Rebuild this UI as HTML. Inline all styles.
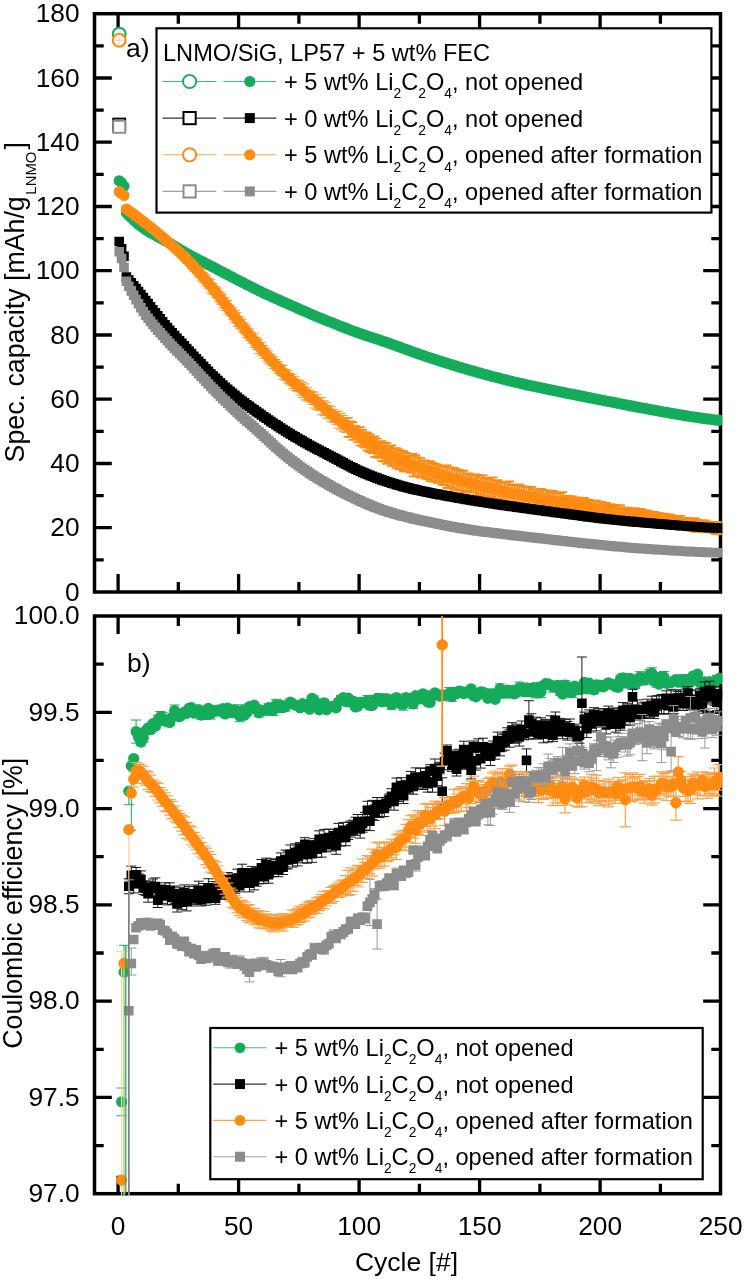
<!DOCTYPE html>
<html lang="en"><head><meta charset="utf-8"><title>Cycling data: specific capacity and coulombic efficiency</title>
<style>html,body{margin:0;padding:0;background:#fff}svg{display:block}text{font-family:"Liberation Sans", Arial, Helvetica, sans-serif;fill:#000}</style></head><body>
<svg width="744" height="1280" viewBox="0 0 744 1280">
<rect width="744" height="1280" fill="#fff"/>
<defs><clipPath id="ca"><rect x="94.5" y="13.7" width="627.8" height="580"/></clipPath><clipPath id="cb"><rect x="94.5" y="616" width="627.8" height="579.5"/></clipPath></defs>
<g id="panel-a">
<path d="M118.1 13.7v18M118.1 592v-18M178.3 13.7v10M178.3 592v-10M238.6 13.7v18M238.6 592v-18M298.9 13.7v10M298.9 592v-10M359.1 13.7v18M359.1 592v-18M419.4 13.7v10M419.4 592v-10M479.6 13.7v18M479.6 592v-18M539.9 13.7v10M539.9 592v-10M600.1 13.7v18M600.1 592v-18M660.4 13.7v10M660.4 592v-10M94.5 527.7h17.3M720.5 527.7h-17.3M94.5 463.5h17.3M720.5 463.5h-17.3M94.5 399.2h17.3M720.5 399.2h-17.3M94.5 335h17.3M720.5 335h-17.3M94.5 270.7h17.3M720.5 270.7h-17.3M94.5 206.5h17.3M720.5 206.5h-17.3M94.5 142.2h17.3M720.5 142.2h-17.3M94.5 78h17.3M720.5 78h-17.3M94.5 559.9h9.2M720.5 559.9h-9.2M94.5 495.6h9.2M720.5 495.6h-9.2M94.5 431.4h9.2M720.5 431.4h-9.2M94.5 367.1h9.2M720.5 367.1h-9.2M94.5 302.9h9.2M720.5 302.9h-9.2M94.5 238.6h9.2M720.5 238.6h-9.2M94.5 174.3h9.2M720.5 174.3h-9.2M94.5 110.1h9.2M720.5 110.1h-9.2M94.5 45.8h9.2M720.5 45.8h-9.2" stroke="#000" stroke-width="3.3" fill="none"/>
<rect x="94.5" y="13.7" width="626" height="578.3" fill="none" stroke="#000" stroke-width="3.5"/>
<path d="M119.2 180.8h0M121.6 182.7h0M124 186.2h0M126.4 212.9h0M128.8 215.5h0M131.3 217.9h0M133.7 220.3h0M136.1 222.4h0M138.5 224.5h0M140.9 226.4h0M143.3 228.1h0M145.7 229.7h0M148.1 231.2h0M150.5 232.7h0M152.9 234.1h0M155.4 235.4h0M157.8 236.7h0M160.2 238h0M162.6 239.2h0M165 240.5h0M167.4 241.9h0M169.8 243.3h0M172.2 244.7h0M174.6 246.2h0M177.1 247.6h0M179.5 249.1h0M181.9 250.5h0M184.3 251.9h0M186.7 253.3h0M189.1 254.7h0M191.5 256h0M193.9 257.3h0M196.3 258.5h0M198.7 259.8h0M201.2 261h0M203.6 262.2h0M206 263.5h0M208.4 264.7h0M210.8 265.9h0M213.2 267.2h0M215.6 268.4h0M218 269.7h0M220.4 271h0M222.8 272.2h0M225.2 273.5h0M227.7 274.7h0M230.1 276h0M232.5 277.2h0M234.9 278.5h0M237.3 279.7h0M239.7 281h0M242.1 282.2h0M244.5 283.4h0M246.9 284.7h0M249.4 285.9h0M251.8 287.2h0M254.2 288.4h0M256.6 289.6h0M259 290.8h0M261.4 291.9h0M263.8 293.1h0M266.2 294.2h0M268.6 295.3h0M271 296.4h0M273.4 297.5h0M275.9 298.6h0M278.3 299.6h0M280.7 300.7h0M283.1 301.8h0M285.5 302.9h0M287.9 303.9h0M290.3 305h0M292.7 306.1h0M295.1 307.1h0M297.6 308.2h0M300 309.3h0M302.4 310.3h0M304.8 311.4h0M307.2 312.4h0M309.6 313.5h0M312 314.5h0M314.4 315.5h0M316.8 316.5h0M319.2 317.5h0M321.7 318.5h0M324.1 319.5h0M326.5 320.5h0M328.9 321.5h0M331.3 322.4h0M333.7 323.4h0M336.1 324.4h0M338.5 325.3h0M340.9 326.3h0M343.3 327.2h0M345.8 328.2h0M348.2 329.1h0M350.6 330.1h0M353 331h0M355.4 331.9h0M357.8 332.7h0M360.2 333.6h0M362.6 334.4h0M365 335.2h0M367.4 336h0M369.9 336.8h0M372.3 337.6h0M374.7 338.4h0M377.1 339.1h0M379.5 339.9h0M381.9 340.8h0M384.3 341.6h0M386.7 342.4h0M389.1 343.3h0M391.5 344.1h0M394 345h0M396.4 345.9h0M398.8 346.7h0M401.2 347.6h0M403.6 348.5h0M406 349.4h0M408.4 350.2h0M410.8 351.1h0M413.2 352h0M415.6 352.8h0M418.1 353.7h0M420.5 354.5h0M422.9 355.4h0M425.3 356.2h0M427.7 357h0M430.1 357.8h0M432.5 358.6h0M434.9 359.4h0M437.3 360.1h0M439.7 360.9h0M442.2 361.7h0M444.6 362.5h0M447 363.2h0M449.4 364h0M451.8 364.7h0M454.2 365.5h0M456.6 366.2h0M459 367h0M461.4 367.7h0M463.8 368.4h0M466.3 369.1h0M468.7 369.8h0M471.1 370.5h0M473.5 371.2h0M475.9 371.9h0M478.3 372.6h0M480.7 373.2h0M483.1 373.9h0M485.5 374.5h0M487.9 375.2h0M490.4 375.8h0M492.8 376.5h0M495.2 377.1h0M497.6 377.7h0M500 378.4h0M502.4 379h0M504.8 379.6h0M507.2 380.2h0M509.6 380.8h0M512 381.4h0M514.5 382h0M516.9 382.5h0M519.3 383.1h0M521.7 383.7h0M524.1 384.2h0M526.5 384.8h0M528.9 385.3h0M531.3 385.9h0M533.7 386.4h0M536.1 386.9h0M538.5 387.4h0M541 387.9h0M543.4 388.4h0M545.8 388.9h0M548.2 389.4h0M550.6 389.9h0M553 390.4h0M555.4 390.9h0M557.8 391.4h0M560.2 391.8h0M562.6 392.3h0M565.1 392.8h0M567.5 393.3h0M569.9 393.8h0M572.3 394.2h0M574.7 394.7h0M577.1 395.2h0M579.5 395.7h0M581.9 396.2h0M584.3 396.7h0M586.8 397.2h0M589.2 397.6h0M591.6 398.1h0M594 398.6h0M596.4 399.1h0M598.8 399.6h0M601.2 400h0M603.6 400.5h0M606 401h0M608.4 401.5h0M610.9 401.9h0M613.3 402.4h0M615.7 402.9h0M618.1 403.4h0M620.5 403.8h0M622.9 404.3h0M625.3 404.8h0M627.7 405.2h0M630.1 405.7h0M632.5 406.2h0M634.9 406.6h0M637.4 407.1h0M639.8 407.5h0M642.2 408h0M644.6 408.4h0M647 408.9h0M649.4 409.3h0M651.8 409.8h0M654.2 410.2h0M656.6 410.6h0M659 411.1h0M661.5 411.5h0M663.9 412h0M666.3 412.4h0M668.7 412.8h0M671.1 413.3h0M673.5 413.7h0M675.9 414.1h0M678.3 414.5h0M680.7 414.9h0M683.1 415.3h0M685.6 415.7h0M688 416.1h0M690.4 416.5h0M692.8 416.9h0M695.2 417.2h0M697.6 417.6h0M700 417.9h0M702.4 418.3h0M704.8 418.6h0M707.2 418.9h0M709.7 419.2h0M712.1 419.5h0M714.5 419.8h0M716.9 420.1h0M719.3 420.4h0" stroke="#14ac5b" stroke-width="11.2" stroke-linecap="round" fill="none" clip-path="url(#ca)"/>
<path d="M148.1 225.1V225.5M143.6 225.1h9M143.6 225.5h9M150.5 226.7V227.7M146 226.7h9M146 227.7h9M152.9 228.4V229.9M148.4 228.4h9M148.4 229.9h9M155.4 230.1V232.1M150.9 230.1h9M150.9 232.1h9M157.8 231.7V234.5M153.3 231.7h9M153.3 234.5h9M160.2 233.5V236.7M155.7 233.5h9M155.7 236.7h9M162.6 235.4V238.9M158.1 235.4h9M158.1 238.9h9M165 236.9V241.5M160.5 236.9h9M160.5 241.5h9M167.4 239.4V243.3M162.9 239.4h9M162.9 243.3h9M169.8 241.3V245.6M165.3 241.3h9M165.3 245.6h9M172.2 242.8V248.4M167.7 242.8h9M167.7 248.4h9M174.6 245.4V250.3M170.1 245.4h9M170.1 250.3h9M177.1 247.4V252.7M172.6 247.4h9M172.6 252.7h9M179.5 248.9V255.7M175 248.9h9M175 255.7h9M181.9 251V258.2M177.4 251h9M177.4 258.2h9M184.3 252.4V261.4M179.8 252.4h9M179.8 261.4h9M186.7 255V263.6M182.2 255h9M182.2 263.6h9M189.1 257.3V266.1M184.6 257.3h9M184.6 266.1h9M191.5 259.6V268.9M187 259.6h9M187 268.9h9M193.9 262.4V271.3M189.4 262.4h9M189.4 271.3h9M196.3 265.3V273.7M191.8 265.3h9M191.8 273.7h9M198.7 267.4V276.9M194.2 267.4h9M194.2 276.9h9M201.2 268.9V280.9M196.7 268.9h9M196.7 280.9h9M203.6 272.4V282.9M199.1 272.4h9M199.1 282.9h9M206 274.6V286.2M201.5 274.6h9M201.5 286.2h9M208.4 278.3V288.3M203.9 278.3h9M203.9 288.3h9M210.8 279.3V293M206.3 279.3h9M206.3 293h9M213.2 283.7V294.4M208.7 283.7h9M208.7 294.4h9M215.6 286.4V297.6M211.1 286.4h9M211.1 297.6h9M218 288.1V301.9M213.5 288.1h9M213.5 301.9h9M220.4 291.9V304.2M215.9 291.9h9M215.9 304.2h9M222.8 294.2V308M218.3 294.2h9M218.3 308h9M225.2 297.8V310.6M220.8 297.8h9M220.8 310.6h9M227.7 300.7V313.9M223.2 300.7h9M223.2 313.9h9M230.1 305.2V315.6M225.6 305.2h9M225.6 315.6h9M232.5 307.3V319.7M228 307.3h9M228 319.7h9M234.9 310.4V322.6M230.4 310.4h9M230.4 322.6h9M237.3 312.6V326.5M232.8 312.6h9M232.8 326.5h9M239.7 316.8V328.4M235.2 316.8h9M235.2 328.4h9M242.1 319.3V331.9M237.6 319.3h9M237.6 331.9h9M244.5 323.5V333.8M240 323.5h9M240 333.8h9M246.9 325.8V337.5M242.4 325.8h9M242.4 337.5h9M249.4 328.9V340.4M244.9 328.9h9M244.9 340.4h9M251.8 332.3V343M247.3 332.3h9M247.3 343h9M254.2 333.8V347.4M249.7 333.8h9M249.7 347.4h9M256.6 337.6V349.3M252.1 337.6h9M252.1 349.3h9M259 339.2V353.5M254.5 339.2h9M254.5 353.5h9M261.4 342.8V355.4M256.9 342.8h9M256.9 355.4h9M263.8 345.5V358.2M259.3 345.5h9M259.3 358.2h9M266.2 348.2V361M261.7 348.2h9M261.7 361h9M268.6 350.8V363.7M264.1 350.8h9M264.1 363.7h9M271 354.6V365.2M266.5 354.6h9M266.5 365.2h9M273.4 356.5V368.5M268.9 356.5h9M268.9 368.5h9M275.9 359.5V370.6M271.4 359.5h9M271.4 370.6h9M278.3 361.7V373.5M273.8 361.7h9M273.8 373.5h9M280.7 364.8V375.3M276.2 364.8h9M276.2 375.3h9M283.1 365.3V379.6M278.6 365.3h9M278.6 379.6h9M285.5 369.3V380.3M281 369.3h9M281 380.3h9M287.9 370.5V383.7M283.4 370.5h9M283.4 383.7h9M290.3 373.6V385.1M285.8 373.6h9M285.8 385.1h9M292.7 374.3V388.7M288.2 374.3h9M288.2 388.7h9M295.1 376.8V390.5M290.6 376.8h9M290.6 390.5h9M297.6 379.9V391.6M293.1 379.9h9M293.1 391.6h9M300 380.6V395M295.5 380.6h9M295.5 395h9M302.4 382.4V397.4M297.9 382.4h9M297.9 397.4h9M304.8 384V399.8M300.3 384h9M300.3 399.8h9M307.2 387.2V400.7M302.7 387.2h9M302.7 400.7h9M309.6 390.1V402M305.1 390.1h9M305.1 402h9M312 391.7V404.4M307.5 391.7h9M307.5 404.4h9M314.4 392.1V408.1M309.9 392.1h9M309.9 408.1h9M316.8 394.7V409.6M312.3 394.7h9M312.3 409.6h9M319.2 397.9V410.4M314.7 397.9h9M314.7 410.4h9M321.7 397.6V414.7M317.2 397.6h9M317.2 414.7h9M324.1 400.7V415.6M319.6 400.7h9M319.6 415.6h9M326.5 402.2V418M322 402.2h9M322 418h9M328.9 405.3V418.9M324.4 405.3h9M324.4 418.9h9M331.3 406.6V421.4M326.8 406.6h9M326.8 421.4h9M333.7 409.4V422.5M329.2 409.4h9M329.2 422.5h9M336.1 411.3V424.4M331.6 411.3h9M331.6 424.4h9M338.5 411.3V428.2M334 411.3h9M334 428.2h9M340.9 413.5V429.9M336.4 413.5h9M336.4 429.9h9M343.3 415.5V431.7M338.8 415.5h9M338.8 431.7h9M345.8 418.4V432.5M341.2 418.4h9M341.2 432.5h9" stroke="#ff8b12" stroke-width="0.9" fill="none" clip-path="url(#ca)"/>
<path d="M348.2 417.8V436.9M343.7 417.8h9M343.7 436.9h9M350.6 421.3V437.1M346.1 421.3h9M346.1 437.1h9M353 422.2V439.8M348.5 422.2h9M348.5 439.8h9M355.4 425.8V439.8M350.9 425.8h9M350.9 439.8h9M357.8 427.1V442.1M353.3 427.1h9M353.3 442.1h9M360.2 427.2V445.4M355.7 427.2h9M355.7 445.4h9M362.6 429.8V446.4M358.1 429.8h9M358.1 446.4h9M365 432.2V447.5M360.5 432.2h9M360.5 447.5h9M367.4 432.7V450.5M362.9 432.7h9M362.9 450.5h9M369.9 434.4V452.3M365.4 434.4h9M365.4 452.3h9M372.3 437.1V453M367.8 437.1h9M367.8 453h9M374.7 436.5V456.8M370.2 436.5h9M370.2 456.8h9M377.1 438.6V457.7M372.6 438.6h9M372.6 457.7h9M379.5 441.4V457.8M375 441.4h9M375 457.8h9M381.9 441.1V460.8M377.4 441.1h9M377.4 460.8h9M384.3 442.9V461.6M379.8 442.9h9M379.8 461.6h9M386.7 443.1V463.8M382.2 443.1h9M382.2 463.8h9M389.1 446.6V462.7M384.6 446.6h9M384.6 462.7h9M391.5 445.5V466.2M387 445.5h9M387 466.2h9M394 448.4V465.5M389.5 448.4h9M389.5 465.5h9M396.4 448.1V468.1M391.9 448.1h9M391.9 468.1h9M398.8 449.4V468.9M394.3 449.4h9M394.3 468.9h9M401.2 450.9V469.5M396.7 450.9h9M396.7 469.5h9M403.6 451.1V471.3M399.1 451.1h9M399.1 471.3h9M406 453V471.5M401.5 453h9M401.5 471.5h9M408.4 455.8V470.6M403.9 455.8h9M403.9 470.6h9M410.8 455.5V472.8M406.3 455.5h9M406.3 472.8h9M413.2 453.9V476.3M408.7 453.9h9M408.7 476.3h9M415.6 455.5V476.5M411.1 455.5h9M411.1 476.5h9M418.1 457.7V476.1M413.6 457.7h9M413.6 476.1h9M420.5 457.9V477.7M416 457.9h9M416 477.7h9M422.9 460.7V476.6M418.4 460.7h9M418.4 476.6h9M425.3 460.5V478.6M420.8 460.5h9M420.8 478.6h9M427.7 461.7V479M423.2 461.7h9M423.2 479h9M430.1 461.2V481.2M425.6 461.2h9M425.6 481.2h9M432.5 462.8V481.2M428 462.8h9M428 481.2h9M434.9 463.8V481.9M430.4 463.8h9M430.4 481.9h9M437.3 464.4V482.9M432.8 464.4h9M432.8 482.9h9M439.7 466.6V482.2M435.2 466.6h9M435.2 482.2h9M442.2 465.5V484.9M437.7 465.5h9M437.7 484.9h9M444.6 466.8V485.1M440.1 466.8h9M440.1 485.1h9M447 465.3V488M442.5 465.3h9M442.5 488h9M449.4 467.4V487.4M444.9 467.4h9M444.9 487.4h9M451.8 467.9V488.3M447.3 467.9h9M447.3 488.3h9M454.2 467.9V489.7M449.7 467.9h9M449.7 489.7h9M456.6 469.1V489.9M452.1 469.1h9M452.1 489.9h9M459 469.8V490.6M454.5 469.8h9M454.5 490.6h9M461.4 471.2V490.5M456.9 471.2h9M456.9 490.5h9M463.8 470.7V492.3M459.3 470.7h9M459.3 492.3h9M466.3 473.5V490.8M461.8 473.5h9M461.8 490.8h9M468.7 473.4V492.3M464.2 473.4h9M464.2 492.3h9M471.1 474.4V492.5M466.6 474.4h9M466.6 492.5h9M473.5 475.7V492.5M469 475.7h9M469 492.5h9M475.9 474.3V495.2M471.4 474.3h9M471.4 495.2h9M478.3 474.8V495.9M473.8 474.8h9M473.8 495.9h9M480.7 477.6V494.3M476.2 477.6h9M476.2 494.3h9M483.1 475.4V497.7M478.6 475.4h9M478.6 497.7h9M485.5 478.3V496M481 478.3h9M481 496h9M487.9 477.9V497.6M483.4 477.9h9M483.4 497.6h9M490.4 479.7V496.9M485.9 479.7h9M485.9 496.9h9M492.8 477.4V500.5M488.3 477.4h9M488.3 500.5h9M495.2 480.3V498.7M490.7 480.3h9M490.7 498.7h9M497.6 480.2V499.9M493.1 480.2h9M493.1 499.9h9M500 482.5V498.8M495.5 482.5h9M495.5 498.8h9M502.4 482V500.3M497.9 482h9M497.9 500.3h9M504.8 482.5V500.9M500.3 482.5h9M500.3 500.9h9M507.2 481.6V502.9M502.7 481.6h9M502.7 502.9h9M509.6 481.5V504M505.1 481.5h9M505.1 504h9M512 485V501.6M507.5 485h9M507.5 501.6h9M514.5 484.4V503.2M510 484.4h9M510 503.2h9M516.9 484.5V504.1M512.4 484.5h9M512.4 504.1h9M519.3 484.4V505.2M514.8 484.4h9M514.8 505.2h9M521.7 486V504.6M517.2 486h9M517.2 504.6h9M524.1 486.4V505.1M519.6 486.4h9M519.6 505.1h9M526.5 486.6V505.9M522 486.6h9M522 505.9h9M528.9 487.4V506.1M524.4 487.4h9M524.4 506.1h9M531.3 487V507.3M526.8 487h9M526.8 507.3h9M533.7 489.2V506M529.2 489.2h9M529.2 506h9M536.1 489.1V507M531.6 489.1h9M531.6 507h9M538.5 491.5V505.4M534 491.5h9M534 505.4h9M541 489V508.7M536.5 489h9M536.5 508.7h9M543.4 489.8V508.7M538.9 489.8h9M538.9 508.7h9M545.8 490.3V509M541.3 490.3h9M541.3 509h9M548.2 490.3V509.9M543.7 490.3h9M543.7 509.9h9M550.6 492.5V508.4M546.1 492.5h9M546.1 508.4h9M553 490.8V510.9M548.5 490.8h9M548.5 510.9h9M555.4 492.8V509.7M550.9 492.8h9M550.9 509.7h9M557.8 492.1V511.2M553.3 492.1h9M553.3 511.2h9M560.2 493.3V510.7M555.7 493.3h9M555.7 510.7h9M562.6 492.2V512.7M558.1 492.2h9M558.1 512.7h9M565.1 496.3V509.4M560.6 496.3h9M560.6 509.4h9M567.5 496V510.6M563 496h9M563 510.6h9M569.9 496.2V511.3M565.4 496.2h9M565.4 511.3h9M572.3 496.3V512M567.8 496.3h9M567.8 512h9M574.7 497.7V511.5M570.2 497.7h9M570.2 511.5h9M577.1 497.4V512.8M572.6 497.4h9M572.6 512.8h9M579.5 497.9V513.3M575 497.9h9M575 513.3h9M581.9 499.6V512.7M577.4 499.6h9M577.4 512.7h9M584.3 497.8V515.5M579.8 497.8h9M579.8 515.5h9M586.8 500.5V513.9M582.2 500.5h9M582.2 513.9h9M589.2 499.6V515.9M584.7 499.6h9M584.7 515.9h9M591.6 501V515.5M587.1 501h9M587.1 515.5h9M594 501.1V516.5M589.5 501.1h9M589.5 516.5h9M596.4 500.6V518M591.9 500.6h9M591.9 518h9M598.8 501.6V518M594.3 501.6h9M594.3 518h9M601.2 502V518.4M596.7 502h9M596.7 518.4h9M603.6 502.6V518.7M599.1 502.6h9M599.1 518.7h9M606 502.9V519.3M601.5 502.9h9M601.5 519.3h9M608.4 504.5V518.6M603.9 504.5h9M603.9 518.6h9M610.9 504.2V519.7M606.4 504.2h9M606.4 519.7h9M613.3 506.1V518.6M608.8 506.1h9M608.8 518.6h9M615.7 504.8V520.7M611.2 504.8h9M611.2 520.7h9M618.1 505.2V521.2M613.6 505.2h9M613.6 521.2h9M620.5 505.4V521.8M616 505.4h9M616 521.8h9M622.9 507.9V520M618.4 507.9h9M618.4 520h9M625.3 507.7V521.1M620.8 507.7h9M620.8 521.1h9M627.7 507.8V521.7M623.2 507.8h9M623.2 521.7h9M630.1 508.9V521.3M625.6 508.9h9M625.6 521.3h9M632.5 508.5V522.5M628 508.5h9M628 522.5h9M634.9 508.1V523.7M630.4 508.1h9M630.4 523.7h9M637.4 510V522.6M632.9 510h9M632.9 522.6h9M639.8 508.8V524.5M635.3 508.8h9M635.3 524.5h9M642.2 509.5V524.6M637.7 509.5h9M637.7 524.6h9M644.6 511.5V523.3M640.1 511.5h9M640.1 523.3h9M647 510.5V525.1M642.5 510.5h9M642.5 525.1h9M649.4 511.3V525M644.9 511.3h9M644.9 525h9M651.8 512.7V524.4M647.3 512.7h9M647.3 524.4h9M654.2 512V525.8M649.7 512h9M649.7 525.8h9M656.6 512.6V526M652.1 512.6h9M652.1 526h9M659 513V526.3M654.5 513h9M654.5 526.3h9M661.5 514.4V525.7M657 514.4h9M657 525.7h9M663.9 513.7V527.1M659.4 513.7h9M659.4 527.1h9M666.3 514.2V527.3M661.8 514.2h9M661.8 527.3h9M668.7 514.4V527.8M664.2 514.4h9M664.2 527.8h9M671.1 515V527.9M666.6 515h9M666.6 527.9h9M673.5 516.3V527.4M669 516.3h9M669 527.4h9M675.9 515.9V528.5M671.4 515.9h9M671.4 528.5h9M678.3 516V529.2M673.8 516h9M673.8 529.2h9M680.7 515.9V529.9M676.2 515.9h9M676.2 529.9h9M683.1 518.1V528.5M678.6 518.1h9M678.6 528.5h9M685.6 518.6V528.6M681.1 518.6h9M681.1 528.6h9M688 517.9V530.1M683.5 517.9h9M683.5 530.1h9M690.4 518.9V529.7M685.9 518.9h9M685.9 529.7h9M692.8 518.4V530.9M688.3 518.4h9M688.3 530.9h9M695.2 518.2V531.9M690.7 518.2h9M690.7 531.9h9M697.6 519.9V530.9M693.1 519.9h9M693.1 530.9h9M700 520.5V530.9M695.5 520.5h9M695.5 530.9h9M702.4 520.1V532M697.9 520.1h9M697.9 532h9M704.8 520.4V532.4M700.3 520.4h9M700.3 532.4h9M707.2 521.6V531.9M702.8 521.6h9M702.8 531.9h9M709.7 521.8V532.3M705.2 521.8h9M705.2 532.3h9M712.1 522.1V532.7M707.6 522.1h9M707.6 532.7h9M714.5 521.9V533.6M710 521.9h9M710 533.6h9M716.9 521.8V534.3M712.4 521.8h9M712.4 534.3h9M719.3 523.1V533.6M714.8 523.1h9M714.8 533.6h9" stroke="#ff8b12" stroke-width="1.8" fill="none" clip-path="url(#ca)"/>
<path d="M119.2 191.7h0M121.6 193.9h0M124 195.5h0M126.4 209h0M128.8 210.7h0M131.3 212.5h0M133.7 214.2h0M136.1 216h0M138.5 217.8h0M140.9 219.6h0M143.3 221.5h0M145.7 223.4h0M148.1 225.3h0M150.5 227.2h0M152.9 229.1h0M155.4 231.1h0M157.8 233.1h0M160.2 235.1h0M162.6 237.2h0M165 239.2h0M167.4 241.3h0M169.8 243.5h0M172.2 245.6h0M174.6 247.8h0M177.1 250h0M179.5 252.3h0M181.9 254.6h0M184.3 256.9h0M186.7 259.3h0M189.1 261.7h0M191.5 264.2h0M193.9 266.8h0M196.3 269.5h0M198.7 272.2h0M201.2 274.9h0M203.6 277.6h0M206 280.4h0M208.4 283.3h0M210.8 286.1h0M213.2 289h0M215.6 292h0M218 295h0M220.4 298h0M222.8 301.1h0M225.2 304.2h0M227.7 307.3h0M230.1 310.4h0M232.5 313.5h0M234.9 316.5h0M237.3 319.6h0M239.7 322.6h0M242.1 325.6h0M244.5 328.6h0M246.9 331.6h0M249.4 334.7h0M251.8 337.6h0M254.2 340.6h0M256.6 343.5h0M259 346.3h0M261.4 349.1h0M263.8 351.9h0M266.2 354.6h0M268.6 357.2h0M271 359.9h0M273.4 362.5h0M275.9 365.1h0M278.3 367.6h0M280.7 370h0M283.1 372.5h0M285.5 374.8h0M287.9 377.1h0M290.3 379.3h0M292.7 381.5h0M295.1 383.7h0M297.6 385.8h0M300 387.8h0M302.4 389.9h0M304.8 391.9h0M307.2 394h0M309.6 396h0M312 398.1h0M314.4 400.1h0M316.8 402.1h0M319.2 404.1h0M321.7 406.1h0M324.1 408.1h0M326.5 410.1h0M328.9 412.1h0M331.3 414h0M333.7 415.9h0M336.1 417.9h0M338.5 419.8h0M340.9 421.7h0M343.3 423.6h0M345.8 425.5h0M348.2 427.4h0M350.6 429.2h0M353 431h0M355.4 432.8h0M357.8 434.6h0M360.2 436.3h0M362.6 438.1h0M365 439.9h0M367.4 441.6h0M369.9 443.3h0M372.3 445h0M374.7 446.6h0M377.1 448.2h0M379.5 449.6h0M381.9 451h0M384.3 452.2h0M386.7 453.5h0M389.1 454.7h0M391.5 455.8h0M394 457h0M396.4 458.1h0M398.8 459.1h0M401.2 460.2h0M403.6 461.2h0M406 462.2h0M408.4 463.2h0M410.8 464.1h0M413.2 465.1h0M415.6 466h0M418.1 466.9h0M420.5 467.8h0M422.9 468.7h0M425.3 469.5h0M427.7 470.4h0M430.1 471.2h0M432.5 472h0M434.9 472.8h0M437.3 473.6h0M439.7 474.4h0M442.2 475.2h0M444.6 475.9h0M447 476.7h0M449.4 477.4h0M451.8 478.1h0M454.2 478.8h0M456.6 479.5h0M459 480.2h0M461.4 480.9h0M463.8 481.5h0M466.3 482.2h0M468.7 482.8h0M471.1 483.5h0M473.5 484.1h0M475.9 484.7h0M478.3 485.3h0M480.7 485.9h0M483.1 486.6h0M485.5 487.2h0M487.9 487.7h0M490.4 488.3h0M492.8 488.9h0M495.2 489.5h0M497.6 490h0M500 490.6h0M502.4 491.2h0M504.8 491.7h0M507.2 492.2h0M509.6 492.8h0M512 493.3h0M514.5 493.8h0M516.9 494.3h0M519.3 494.8h0M521.7 495.3h0M524.1 495.8h0M526.5 496.3h0M528.9 496.7h0M531.3 497.2h0M533.7 497.6h0M536.1 498h0M538.5 498.5h0M541 498.9h0M543.4 499.3h0M545.8 499.7h0M548.2 500.1h0M550.6 500.5h0M553 500.8h0M555.4 501.2h0M557.8 501.6h0M560.2 502h0M562.6 502.4h0M565.1 502.9h0M567.5 503.3h0M569.9 503.7h0M572.3 504.2h0M574.7 504.6h0M577.1 505.1h0M579.5 505.6h0M581.9 506.1h0M584.3 506.7h0M586.8 507.2h0M589.2 507.7h0M591.6 508.3h0M594 508.8h0M596.4 509.3h0M598.8 509.8h0M601.2 510.2h0M603.6 510.7h0M606 511.1h0M608.4 511.5h0M610.9 511.9h0M613.3 512.4h0M615.7 512.8h0M618.1 513.2h0M620.5 513.6h0M622.9 514h0M625.3 514.4h0M627.7 514.7h0M630.1 515.1h0M632.5 515.5h0M634.9 515.9h0M637.4 516.3h0M639.8 516.7h0M642.2 517h0M644.6 517.4h0M647 517.8h0M649.4 518.2h0M651.8 518.5h0M654.2 518.9h0M656.6 519.3h0M659 519.7h0M661.5 520h0M663.9 520.4h0M666.3 520.8h0M668.7 521.1h0M671.1 521.5h0M673.5 521.9h0M675.9 522.2h0M678.3 522.6h0M680.7 522.9h0M683.1 523.3h0M685.6 523.6h0M688 524h0M690.4 524.3h0M692.8 524.7h0M695.2 525h0M697.6 525.4h0M700 525.7h0M702.4 526.1h0M704.8 526.4h0M707.2 526.7h0M709.7 527.1h0M712.1 527.4h0M714.5 527.7h0M716.9 528.1h0M719.3 528.4h0" stroke="#ff8b12" stroke-width="11.2" stroke-linecap="round" fill="none" clip-path="url(#ca)"/>
<path d="M114.4 241.5h9.6M116.8 248.9h9.6M119.2 256.3h9.6M121.6 277.1h9.6M124 280h9.6M126.5 282.9h9.6M128.9 285.7h9.6M131.3 288.6h9.6M133.7 291.6h9.6M136.1 294.5h9.6M138.5 297.5h9.6M140.9 300.5h9.6M143.3 303.6h9.6M145.7 306.7h9.6M148.1 309.8h9.6M150.6 312.8h9.6M153 315.9h9.6M155.4 318.9h9.6M157.8 321.8h9.6M160.2 324.7h9.6M162.6 327.5h9.6M165 330.2h9.6M167.4 332.9h9.6M169.8 335.6h9.6M172.2 338.2h9.6M174.7 340.8h9.6M177.1 343.3h9.6M179.5 345.9h9.6M181.9 348.5h9.6M184.3 351h9.6M186.7 353.6h9.6M189.1 356.2h9.6M191.5 358.8h9.6M193.9 361.4h9.6M196.3 363.9h9.6M198.8 366.4h9.6M201.2 368.9h9.6M203.6 371.4h9.6M206 373.8h9.6M208.4 376.1h9.6M210.8 378.4h9.6M213.2 380.6h9.6M215.6 382.8h9.6M218 385h9.6M220.4 387.2h9.6M222.9 389.3h9.6M225.3 391.3h9.6M227.7 393.4h9.6M230.1 395.4h9.6M232.5 397.3h9.6M234.9 399.2h9.6M237.3 401.1h9.6M239.7 402.9h9.6M242.1 404.7h9.6M244.6 406.4h9.6M247 408.2h9.6M249.4 409.9h9.6M251.8 411.6h9.6M254.2 413.3h9.6M256.6 415h9.6M259 416.7h9.6M261.4 418.3h9.6M263.8 420h9.6M266.2 421.6h9.6M268.6 423.2h9.6M271.1 424.8h9.6M273.5 426.4h9.6M275.9 428h9.6M278.3 429.5h9.6M280.7 431h9.6M283.1 432.5h9.6M285.5 434h9.6M287.9 435.5h9.6M290.3 436.9h9.6M292.8 438.3h9.6M295.2 439.7h9.6M297.6 441.1h9.6M300 442.5h9.6M302.4 443.8h9.6M304.8 445.2h9.6M307.2 446.5h9.6M309.6 447.8h9.6M312 449h9.6M314.4 450.3h9.6M316.9 451.5h9.6M319.3 452.8h9.6M321.7 454h9.6M324.1 455.2h9.6M326.5 456.5h9.6M328.9 457.7h9.6M331.3 459h9.6M333.7 460.3h9.6M336.1 461.6h9.6M338.5 462.9h9.6M340.9 464.2h9.6M343.4 465.5h9.6M345.8 466.7h9.6M348.2 467.9h9.6M350.6 469.1h9.6M353 470.2h9.6M355.4 471.3h9.6M357.8 472.4h9.6M360.2 473.4h9.6M362.6 474.4h9.6M365.1 475.4h9.6M367.5 476.3h9.6M369.9 477.2h9.6M372.3 478.1h9.6M374.7 479h9.6M377.1 479.9h9.6M379.5 480.7h9.6M381.9 481.5h9.6M384.3 482.3h9.6M386.7 483.1h9.6M389.2 483.8h9.6M391.6 484.6h9.6M394 485.3h9.6M396.4 486h9.6M398.8 486.6h9.6M401.2 487.3h9.6M403.6 487.9h9.6M406 488.5h9.6M408.4 489.1h9.6M410.8 489.6h9.6M413.2 490.2h9.6M415.7 490.7h9.6M418.1 491.2h9.6M420.5 491.7h9.6M422.9 492.2h9.6M425.3 492.7h9.6M427.7 493.2h9.6M430.1 493.7h9.6M432.5 494.1h9.6M434.9 494.6h9.6M437.4 495h9.6M439.8 495.5h9.6M442.2 495.9h9.6M444.6 496.4h9.6M447 496.8h9.6M449.4 497.2h9.6M451.8 497.7h9.6M454.2 498.1h9.6M456.6 498.5h9.6M459 498.9h9.6M461.5 499.4h9.6M463.9 499.8h9.6M466.3 500.2h9.6M468.7 500.6h9.6M471.1 501h9.6M473.5 501.4h9.6M475.9 501.8h9.6M478.3 502.2h9.6M480.7 502.5h9.6M483.1 502.9h9.6M485.6 503.3h9.6M488 503.6h9.6M490.4 504h9.6M492.8 504.4h9.6M495.2 504.7h9.6M497.6 505.1h9.6M500 505.4h9.6M502.4 505.8h9.6M504.8 506.1h9.6M507.2 506.4h9.6M509.7 506.8h9.6M512.1 507.1h9.6M514.5 507.5h9.6M516.9 507.8h9.6M519.3 508.1h9.6M521.7 508.5h9.6M524.1 508.8h9.6M526.5 509.1h9.6M528.9 509.5h9.6M531.3 509.8h9.6M533.8 510.1h9.6M536.2 510.4h9.6M538.6 510.8h9.6M541 511.1h9.6M543.4 511.4h9.6M545.8 511.7h9.6M548.2 512h9.6M550.6 512.4h9.6M553 512.7h9.6M555.4 513h9.6M557.9 513.3h9.6M560.3 513.6h9.6M562.7 513.9h9.6M565.1 514.3h9.6M567.5 514.6h9.6M569.9 514.9h9.6M572.3 515.2h9.6M574.7 515.5h9.6M577.1 515.9h9.6M579.5 516.2h9.6M582 516.6h9.6M584.4 516.9h9.6M586.8 517.2h9.6M589.2 517.5h9.6M591.6 517.8h9.6M594 518.1h9.6M596.4 518.4h9.6M598.8 518.7h9.6M601.2 518.9h9.6M603.6 519.2h9.6M606.1 519.5h9.6M608.5 519.7h9.6M610.9 520h9.6M613.3 520.2h9.6M615.7 520.5h9.6M618.1 520.7h9.6M620.5 520.9h9.6M622.9 521.2h9.6M625.3 521.4h9.6M627.7 521.6h9.6M630.1 521.9h9.6M632.6 522.1h9.6M635 522.3h9.6M637.4 522.5h9.6M639.8 522.7h9.6M642.2 522.9h9.6M644.6 523.1h9.6M647 523.3h9.6M649.4 523.5h9.6M651.8 523.7h9.6M654.2 523.9h9.6M656.7 524.1h9.6M659.1 524.3h9.6M661.5 524.5h9.6M663.9 524.7h9.6M666.3 524.9h9.6M668.7 525.1h9.6M671.1 525.3h9.6M673.5 525.5h9.6M675.9 525.7h9.6M678.4 525.8h9.6M680.8 526h9.6M683.2 526.2h9.6M685.6 526.4h9.6M688 526.5h9.6M690.4 526.7h9.6M692.8 526.9h9.6M695.2 527h9.6M697.6 527.2h9.6M700 527.3h9.6M702.5 527.5h9.6M704.9 527.6h9.6M707.3 527.8h9.6M709.7 527.9h9.6M712.1 528.1h9.6M714.5 528.2h9.6" stroke="#000000" stroke-width="9.6" fill="none" clip-path="url(#ca)"/>
<path d="M114.4 251.8h9.6M116.8 258.5h9.6M119.2 267.2h9.6M121.6 281.3h9.6M124 286.2h9.6M126.5 290.9h9.6M128.9 295.3h9.6M131.3 299.6h9.6M133.7 303.8h9.6M136.1 307.8h9.6M138.5 311.5h9.6M140.9 315.1h9.6M143.3 318.3h9.6M145.7 321.4h9.6M148.1 324.4h9.6M150.6 327.3h9.6M153 330.1h9.6M155.4 332.8h9.6M157.8 335.5h9.6M160.2 338.2h9.6M162.6 340.8h9.6M165 343.4h9.6M167.4 346h9.6M169.8 348.5h9.6M172.2 350.9h9.6M174.7 353.4h9.6M177.1 355.8h9.6M179.5 358.3h9.6M181.9 360.7h9.6M184.3 363.3h9.6M186.7 365.8h9.6M189.1 368.4h9.6M191.5 371h9.6M193.9 373.6h9.6M196.3 376.2h9.6M198.8 378.8h9.6M201.2 381.4h9.6M203.6 384h9.6M206 386.5h9.6M208.4 389h9.6M210.8 391.4h9.6M213.2 393.8h9.6M215.6 396.2h9.6M218 398.6h9.6M220.4 400.9h9.6M222.9 403.3h9.6M225.3 405.6h9.6M227.7 407.9h9.6M230.1 410.2h9.6M232.5 412.4h9.6M234.9 414.6h9.6M237.3 416.8h9.6M239.7 419h9.6M242.1 421.1h9.6M244.6 423.3h9.6M247 425.4h9.6M249.4 427.5h9.6M251.8 429.7h9.6M254.2 431.8h9.6M256.6 433.9h9.6M259 436.1h9.6M261.4 438.3h9.6M263.8 440.5h9.6M266.2 442.7h9.6M268.6 445h9.6M271.1 447.2h9.6M273.5 449.3h9.6M275.9 451.4h9.6M278.3 453.5h9.6M280.7 455.5h9.6M283.1 457.4h9.6M285.5 459.3h9.6M287.9 461.1h9.6M290.3 462.9h9.6M292.8 464.7h9.6M295.2 466.5h9.6M297.6 468.2h9.6M300 469.9h9.6M302.4 471.5h9.6M304.8 473.1h9.6M307.2 474.7h9.6M309.6 476.2h9.6M312 477.8h9.6M314.4 479.2h9.6M316.9 480.7h9.6M319.3 482.1h9.6M321.7 483.5h9.6M324.1 484.9h9.6M326.5 486.3h9.6M328.9 487.6h9.6M331.3 488.9h9.6M333.7 490.2h9.6M336.1 491.5h9.6M338.5 492.7h9.6M340.9 494h9.6M343.4 495.2h9.6M345.8 496.4h9.6M348.2 497.5h9.6M350.6 498.7h9.6M353 499.8h9.6M355.4 500.9h9.6M357.8 502h9.6M360.2 503h9.6M362.6 504.1h9.6M365.1 505.1h9.6M367.5 506.1h9.6M369.9 507.1h9.6M372.3 508h9.6M374.7 508.9h9.6M377.1 509.8h9.6M379.5 510.6h9.6M381.9 511.3h9.6M384.3 512.1h9.6M386.7 512.8h9.6M389.2 513.6h9.6M391.6 514.2h9.6M394 514.9h9.6M396.4 515.6h9.6M398.8 516.2h9.6M401.2 516.8h9.6M403.6 517.4h9.6M406 518h9.6M408.4 518.6h9.6M410.8 519.1h9.6M413.2 519.7h9.6M415.7 520.2h9.6M418.1 520.7h9.6M420.5 521.3h9.6M422.9 521.8h9.6M425.3 522.3h9.6M427.7 522.8h9.6M430.1 523.3h9.6M432.5 523.8h9.6M434.9 524.3h9.6M437.4 524.8h9.6M439.8 525.3h9.6M442.2 525.8h9.6M444.6 526.2h9.6M447 526.7h9.6M449.4 527.1h9.6M451.8 527.5h9.6M454.2 527.9h9.6M456.6 528.4h9.6M459 528.8h9.6M461.5 529.1h9.6M463.9 529.5h9.6M466.3 529.9h9.6M468.7 530.3h9.6M471.1 530.6h9.6M473.5 531h9.6M475.9 531.3h9.6M478.3 531.6h9.6M480.7 531.9h9.6M483.1 532.2h9.6M485.6 532.5h9.6M488 532.8h9.6M490.4 533.1h9.6M492.8 533.4h9.6M495.2 533.7h9.6M497.6 534h9.6M500 534.3h9.6M502.4 534.5h9.6M504.8 534.8h9.6M507.2 535.1h9.6M509.7 535.4h9.6M512.1 535.6h9.6M514.5 535.9h9.6M516.9 536.2h9.6M519.3 536.5h9.6M521.7 536.7h9.6M524.1 537h9.6M526.5 537.3h9.6M528.9 537.6h9.6M531.3 537.9h9.6M533.8 538.1h9.6M536.2 538.4h9.6M538.6 538.7h9.6M541 539h9.6M543.4 539.3h9.6M545.8 539.5h9.6M548.2 539.8h9.6M550.6 540.1h9.6M553 540.4h9.6M555.4 540.7h9.6M557.9 540.9h9.6M560.3 541.2h9.6M562.7 541.5h9.6M565.1 541.7h9.6M567.5 542h9.6M569.9 542.3h9.6M572.3 542.5h9.6M574.7 542.8h9.6M577.1 543.1h9.6M579.5 543.3h9.6M582 543.6h9.6M584.4 543.8h9.6M586.8 544.1h9.6M589.2 544.3h9.6M591.6 544.5h9.6M594 544.8h9.6M596.4 545h9.6M598.8 545.2h9.6M601.2 545.5h9.6M603.6 545.7h9.6M606.1 545.9h9.6M608.5 546.2h9.6M610.9 546.4h9.6M613.3 546.6h9.6M615.7 546.8h9.6M618.1 547h9.6M620.5 547.3h9.6M622.9 547.5h9.6M625.3 547.7h9.6M627.7 547.9h9.6M630.1 548.1h9.6M632.6 548.2h9.6M635 548.4h9.6M637.4 548.6h9.6M639.8 548.8h9.6M642.2 548.9h9.6M644.6 549.1h9.6M647 549.3h9.6M649.4 549.4h9.6M651.8 549.6h9.6M654.2 549.7h9.6M656.7 549.9h9.6M659.1 550h9.6M661.5 550.2h9.6M663.9 550.3h9.6M666.3 550.5h9.6M668.7 550.6h9.6M671.1 550.8h9.6M673.5 550.9h9.6M675.9 551h9.6M678.4 551.2h9.6M680.8 551.3h9.6M683.2 551.4h9.6M685.6 551.6h9.6M688 551.7h9.6M690.4 551.8h9.6M692.8 551.9h9.6M695.2 552h9.6M697.6 552.1h9.6M700 552.2h9.6M702.5 552.4h9.6M704.9 552.5h9.6M707.3 552.5h9.6M709.7 552.6h9.6M712.1 552.7h9.6M714.5 552.8h9.6" stroke="#8c8c8c" stroke-width="9.6" fill="none" clip-path="url(#ca)"/>
<rect x="113.2" y="118.6" width="12" height="12" fill="#fff" stroke="#000000" stroke-width="1.9"/>
<rect x="113.2" y="120.8" width="12" height="12" fill="#fff" stroke="#8c8c8c" stroke-width="1.9"/>
<circle cx="119.2" cy="34.1" r="6.4" fill="#fff" stroke="#14ac5b" stroke-width="2.1"/>
<circle cx="119.2" cy="40.2" r="6.4" fill="#fff" stroke="#ff8b12" stroke-width="2.1"/>
<path d="M115.2 40.2h8M119.2 36.2v8" stroke="#ffc78a" stroke-width="1" fill="none"/>
<text x="79.6" y="600.5" font-size="26.3" text-anchor="end">0</text>
<text x="79.6" y="536.2" font-size="26.3" text-anchor="end">20</text>
<text x="79.6" y="472" font-size="26.3" text-anchor="end">40</text>
<text x="79.6" y="407.7" font-size="26.3" text-anchor="end">60</text>
<text x="79.6" y="343.5" font-size="26.3" text-anchor="end">80</text>
<text x="79.6" y="279.2" font-size="26.3" text-anchor="end">100</text>
<text x="79.6" y="215" font-size="26.3" text-anchor="end">120</text>
<text x="79.6" y="150.7" font-size="26.3" text-anchor="end">140</text>
<text x="79.6" y="86.5" font-size="26.3" text-anchor="end">160</text>
<text x="79.6" y="22.2" font-size="26.3" text-anchor="end">180</text>
<text x="126" y="56.6" font-size="26.5">a)</text>
<text transform="translate(23.9 462.4) rotate(-90)" font-size="26.75">Spec. capacity [mAh/g<tspan font-size="14.9" dy="11.6" dx="1.6">LNMO</tspan><tspan dy="-11.6" dx="2.2">]</tspan></text>
<rect x="156.5" y="28.3" width="554.9" height="184.3" fill="#fff" stroke="#000" stroke-width="2.2"/>
<text x="163" y="60.6" font-size="23.6">LNMO/SiG, LP57 + 5 wt% FEC</text>
<path d="M162.6 81.5H216.2M223.4 81.5H276.4" stroke="#14ac5b" stroke-width="1.1" stroke-opacity="0.8" fill="none"/>
<circle cx="189.6" cy="81.5" r="6.6" fill="#fff" stroke="#14ac5b" stroke-width="1.9"/>
<circle cx="249.8" cy="81.5" r="5.6" fill="#14ac5b"/>
<text x="284" y="90.1" font-size="23.6">+ 5 wt% Li<tspan font-size="13.8" dy="8.2">2</tspan><tspan dy="-8.2">C</tspan><tspan font-size="13.8" dy="8.2">2</tspan><tspan dy="-8.2">O</tspan><tspan font-size="13.8" dy="8.2">4</tspan><tspan dy="-8.2">, not opened</tspan></text>
<path d="M162.6 118.1H216.2M223.4 118.1H276.4" stroke="#000000" stroke-width="1.1" stroke-opacity="0.8" fill="none"/>
<rect x="183.5" y="112" width="12.2" height="12.2" fill="#fff" stroke="#000000" stroke-width="2"/>
<rect x="244.8" y="113.1" width="10" height="10" fill="#000000"/>
<text x="284" y="126.7" font-size="23.6">+ 0 wt% Li<tspan font-size="13.8" dy="8.2">2</tspan><tspan dy="-8.2">C</tspan><tspan font-size="13.8" dy="8.2">2</tspan><tspan dy="-8.2">O</tspan><tspan font-size="13.8" dy="8.2">4</tspan><tspan dy="-8.2">, not opened</tspan></text>
<path d="M162.6 154.8H216.2M223.4 154.8H276.4" stroke="#ff8b12" stroke-width="1.1" stroke-opacity="0.8" fill="none"/>
<circle cx="189.6" cy="154.8" r="6.6" fill="#fff" stroke="#ff8b12" stroke-width="1.9"/>
<circle cx="249.8" cy="154.8" r="5.6" fill="#ff8b12"/>
<text x="284" y="163.4" font-size="23.6">+ 5 wt% Li<tspan font-size="13.8" dy="8.2">2</tspan><tspan dy="-8.2">C</tspan><tspan font-size="13.8" dy="8.2">2</tspan><tspan dy="-8.2">O</tspan><tspan font-size="13.8" dy="8.2">4</tspan><tspan dy="-8.2">, opened after formation</tspan></text>
<path d="M162.6 191.4H216.2M223.4 191.4H276.4" stroke="#8c8c8c" stroke-width="1.1" stroke-opacity="0.8" fill="none"/>
<rect x="183.5" y="185.3" width="12.2" height="12.2" fill="#fff" stroke="#8c8c8c" stroke-width="2"/>
<rect x="244.8" y="186.4" width="10" height="10" fill="#8c8c8c"/>
<text x="284" y="200" font-size="23.6">+ 0 wt% Li<tspan font-size="13.8" dy="8.2">2</tspan><tspan dy="-8.2">C</tspan><tspan font-size="13.8" dy="8.2">2</tspan><tspan dy="-8.2">O</tspan><tspan font-size="13.8" dy="8.2">4</tspan><tspan dy="-8.2">, opened after formation</tspan></text>
</g>
<g id="panel-b">
<path d="M118.1 616v18M118.1 1193.7v-18M178.3 616v10M178.3 1193.7v-10M238.6 616v18M238.6 1193.7v-18M298.9 616v10M298.9 1193.7v-10M359.1 616v18M359.1 1193.7v-18M419.4 616v10M419.4 1193.7v-10M479.6 616v18M479.6 1193.7v-18M539.9 616v10M539.9 1193.7v-10M600.1 616v18M600.1 1193.7v-18M660.4 616v10M660.4 1193.7v-10M94.5 1097.4h17.3M720.5 1097.4h-17.3M94.5 1001.1h17.3M720.5 1001.1h-17.3M94.5 904.9h17.3M720.5 904.9h-17.3M94.5 808.6h17.3M720.5 808.6h-17.3M94.5 712.3h17.3M720.5 712.3h-17.3M94.5 1145.6h9.2M720.5 1145.6h-9.2M94.5 1049.3h9.2M720.5 1049.3h-9.2M94.5 953h9.2M720.5 953h-9.2M94.5 856.7h9.2M720.5 856.7h-9.2M94.5 760.4h9.2M720.5 760.4h-9.2M94.5 664.1h9.2M720.5 664.1h-9.2" stroke="#000" stroke-width="3.3" fill="none"/>
<rect x="94.5" y="616" width="626" height="577.7" fill="none" stroke="#000" stroke-width="3.5"/>
<path d="M121.6 1088V1115.7M116.6 1088h10M116.6 1115.7h10M124 945.3V1261.1M119 945.3h10M119 1261.1h10M128.8 791.2V804.7M123.8 791.2h10M123.8 804.7h10M131.3 765.8V830.3M126.3 765.8h10M126.3 830.3h10M133.7 758.2V758.8M128.7 758.2h10M128.7 758.8h10M136.1 720V743.1M131.1 720h10M131.1 743.1h10M138.5 736V738.6M133.5 736h10M133.5 738.6h10M140.9 738.6V745.7M135.9 738.6h10M135.9 745.7h10M143.3 733.2V742.6M138.3 733.2h10M138.3 742.6h10M145.7 730.2V731.3M140.7 730.2h10M140.7 731.3h10M148.1 727.6V727.9M143.1 727.6h10M143.1 727.9h10M150.5 726.1V733.3M145.5 726.1h10M145.5 733.3h10M152.9 721.3V726.1M147.9 721.3h10M147.9 726.1h10M155.4 723.9V729M150.4 723.9h10M150.4 729h10M157.8 715.7V725.1M152.8 715.7h10M152.8 725.1h10M160.2 711.5V722.2M155.2 711.5h10M155.2 722.2h10M162.6 712.4V723.6M157.6 712.4h10M157.6 723.6h10M165 716.6V725.6M160 716.6h10M160 725.6h10M167.4 721.9V722M162.4 721.9h10M162.4 722h10M169.8 721.7V723.4M164.8 721.7h10M164.8 723.4h10M172.2 713.9V720.7M167.2 713.9h10M167.2 720.7h10M174.6 705V716.1M169.6 705h10M169.6 716.1h10M177.1 714.6V715.6M172.1 714.6h10M172.1 715.6h10M179.5 713.7V719.7M174.5 713.7h10M174.5 719.7h10M181.9 712.3V716.9M176.9 712.3h10M176.9 716.9h10M184.3 709.8V714.5M179.3 709.8h10M179.3 714.5h10M186.7 711.9V715M181.7 711.9h10M181.7 715h10M189.1 706.5V709.6M184.1 706.5h10M184.1 709.6h10M191.5 706.3V709.1M186.5 706.3h10M186.5 709.1h10M193.9 712.5V713.7M188.9 712.5h10M188.9 713.7h10M196.3 709.8V716.2M191.3 709.8h10M191.3 716.2h10M198.7 706.9V712M193.7 706.9h10M193.7 712h10M201.2 710.9V719.2M196.2 710.9h10M196.2 719.2h10M203.6 708.6V716M198.6 708.6h10M198.6 716h10M206 708.4V719.4M201 708.4h10M201 719.4h10M208.4 706.4V710.3M203.4 706.4h10M203.4 710.3h10M210.8 708.8V719M205.8 708.8h10M205.8 719h10M213.2 709.3V713.8M208.2 709.3h10M208.2 713.8h10M215.6 707.4V715M210.6 707.4h10M210.6 715h10M218 705.4V714.7M213 705.4h10M213 714.7h10M220.4 708.9V713.5M215.4 708.9h10M215.4 713.5h10M222.8 706V711.2M217.8 706h10M217.8 711.2h10M225.2 710.4V717.7M220.2 710.4h10M220.2 717.7h10M227.7 707.5V708.8M222.7 707.5h10M222.7 708.8h10M230.1 706.3V712.4M225.1 706.3h10M225.1 712.4h10M232.5 712V713.1M227.5 712h10M227.5 713.1h10M234.9 708.4V711M229.9 708.4h10M229.9 711h10M237.3 709V716.2M232.3 709h10M232.3 716.2h10M239.7 710.4V721.7M234.7 710.4h10M234.7 721.7h10M242.1 704.8V716.3M237.1 704.8h10M237.1 716.3h10M244.5 713.7V716.7M239.5 713.7h10M239.5 716.7h10M246.9 711.8V713.5M241.9 711.8h10M241.9 713.5h10M249.4 703.7V709.7M244.4 703.7h10M244.4 709.7h10M251.8 704.5V709.6M246.8 704.5h10M246.8 709.6h10M254.2 703V707.4M249.2 703h10M249.2 707.4h10M256.6 704.7V713.6M251.6 704.7h10M251.6 713.6h10M259 708.7V716.9M254 708.7h10M254 716.9h10M261.4 707.6V714.1M256.4 707.6h10M256.4 714.1h10M263.8 706.7V713.9M258.8 706.7h10M258.8 713.9h10M266.2 706.9V713.6M261.2 706.9h10M261.2 713.6h10M268.6 703.8V711.6M263.6 703.8h10M263.6 711.6h10M271 704.2V715M266 704.2h10M266 715h10M273.4 704.6V715.6M268.4 704.6h10M268.4 715.6h10M275.9 699.3V710.6M270.9 699.3h10M270.9 710.6h10M278.3 702.5V712.4M273.3 702.5h10M273.3 712.4h10M280.7 704.6V705.8M275.7 704.6h10M275.7 705.8h10M283.1 705V710.2M278.1 705h10M278.1 710.2h10M285.5 702V711.1M280.5 702h10M280.5 711.1h10M287.9 702.9V706.3M282.9 702.9h10M282.9 706.3h10M290.3 698.7V705.7M285.3 698.7h10M285.3 705.7h10M292.7 703.2V703.9M287.7 703.2h10M287.7 703.9h10M295.1 703.9V706.2M290.1 703.9h10M290.1 706.2h10M297.6 703.6V708.2M292.6 703.6h10M292.6 708.2h10M300 707.2V708.1M295 707.2h10M295 708.1h10M302.4 701.2V706.1M297.4 701.2h10M297.4 706.1h10M304.8 703.1V705.8M299.8 703.1h10M299.8 705.8h10M307.2 701.5V711.5M302.2 701.5h10M302.2 711.5h10M309.6 707.3V711M304.6 707.3h10M304.6 711h10M312 696.1V700.5M307 696.1h10M307 700.5h10M314.4 696V705.3M309.4 696h10M309.4 705.3h10M316.8 701.6V708.1M311.8 701.6h10M311.8 708.1h10M319.2 709.7V710.2M314.2 709.7h10M314.2 710.2h10M321.7 704.4V706.9M316.7 704.4h10M316.7 706.9h10M324.1 699.3V706.3M319.1 699.3h10M319.1 706.3h10M326.5 708.5V710.8M321.5 708.5h10M321.5 710.8h10M328.9 705.5V708.4M323.9 705.5h10M323.9 708.4h10M331.3 703.1V710.3M326.3 703.1h10M326.3 710.3h10M333.7 703.9V709.6M328.7 703.9h10M328.7 709.6h10M336.1 706.3V709.4M331.1 706.3h10M331.1 709.4h10M338.5 698.9V705.3M333.5 698.9h10M333.5 705.3h10M340.9 695.7V703M335.9 695.7h10M335.9 703h10M343.3 697.3V697.7M338.3 697.3h10M338.3 697.7h10M345.8 699.9V703M340.8 699.9h10M340.8 703h10M348.2 696.2V699.8M343.2 696.2h10M343.2 699.8h10M350.6 696.6V706.8M345.6 696.6h10M345.6 706.8h10M353 700.8V701.4M348 700.8h10M348 701.4h10M355.4 705V709M350.4 705h10M350.4 709h10M357.8 705V707.3M352.8 705h10M352.8 707.3h10M360.2 698.3V706.3M355.2 698.3h10M355.2 706.3h10M362.6 697.7V707.1M357.6 697.7h10M357.6 707.1h10M365 702.4V703M360 702.4h10M360 703h10M367.4 695.6V705.6M362.4 695.6h10M362.4 705.6h10M369.9 701.3V709.3M364.9 701.3h10M364.9 709.3h10M372.3 704.3V706.8M367.3 704.3h10M367.3 706.8h10M374.7 695.4V706M369.7 695.4h10M369.7 706h10M377.1 696.7V700M372.1 696.7h10M372.1 700h10M379.5 693.8V702.9M374.5 693.8h10M374.5 702.9h10M381.9 701.5V702.3M376.9 701.5h10M376.9 702.3h10M384.3 698.6V703.9M379.3 698.6h10M379.3 703.9h10M386.7 695.6V701.4M381.7 695.6h10M381.7 701.4h10M389.1 694.8V705.2M384.1 694.8h10M384.1 705.2h10M391.5 699.6V709.3M386.5 699.6h10M386.5 709.3h10M394 700.3V706.6M389 700.3h10M389 706.6h10M396.4 697.2V697.8M391.4 697.2h10M391.4 697.8h10M398.8 697.9V702.8M393.8 697.9h10M393.8 702.8h10M401.2 702V706.3M396.2 702h10M396.2 706.3h10M403.6 698.6V710.1M398.6 698.6h10M398.6 710.1h10M406 693.7V701.6M401 693.7h10M401 701.6h10M408.4 698.6V703.2M403.4 698.6h10M403.4 703.2h10M410.8 699.4V703.6M405.8 699.4h10M405.8 703.6h10M413.2 699.5V708.4M408.2 699.5h10M408.2 708.4h10M415.6 695.1V696.2M410.6 695.1h10M410.6 696.2h10M418.1 692.9V702.3M413.1 692.9h10M413.1 702.3h10M420.5 695.1V702.8M415.5 695.1h10M415.5 702.8h10M422.9 691.3V696.3M417.9 691.3h10M417.9 696.3h10M425.3 691V699.2M420.3 691h10M420.3 699.2h10M427.7 699.8V704.4M422.7 699.8h10M422.7 704.4h10M430.1 701.7V703.4M425.1 701.7h10M425.1 703.4h10M432.5 693.7V698.5M427.5 693.7h10M427.5 698.5h10M434.9 692.5V693.1M429.9 692.5h10M429.9 693.1h10M437.3 693.8V694.8M432.3 693.8h10M432.3 694.8h10M439.7 693.6V698.6M434.7 693.6h10M434.7 698.6h10M442.2 690.3V699.9M437.2 690.3h10M437.2 699.9h10M444.6 694.5V696.9M439.6 694.5h10M439.6 696.9h10M447 691.7V697.4M442 691.7h10M442 697.4h10M449.4 687.6V698.9M444.4 687.6h10M444.4 698.9h10M451.8 691.7V701.3M446.8 691.7h10M446.8 701.3h10M454.2 687.7V698.2M449.2 687.7h10M449.2 698.2h10M456.6 689.7V697.5M451.6 689.7h10M451.6 697.5h10M459 687.6V694.4M454 687.6h10M454 694.4h10M461.4 688.2V694.9M456.4 688.2h10M456.4 694.9h10M463.8 690.1V697M458.8 690.1h10M458.8 697h10M466.3 689.5V694.9M461.3 689.5h10M461.3 694.9h10M468.7 690.6V694.7M463.7 690.6h10M463.7 694.7h10M471.1 687.4V690.2M466.1 687.4h10M466.1 690.2h10M473.5 695.6V696.3M468.5 695.6h10M468.5 696.3h10M475.9 694.6V698.9M470.9 694.6h10M470.9 698.9h10M478.3 689.7V698.6M473.3 689.7h10M473.3 698.6h10M480.7 688.6V695M475.7 688.6h10M475.7 695h10M483.1 691.1V693M478.1 691.1h10M478.1 693h10M485.5 689.4V698.8M480.5 689.4h10M480.5 698.8h10M487.9 698.1V698.6M482.9 698.1h10M482.9 698.6h10M490.4 688.9V699.7M485.4 688.9h10M485.4 699.7h10M492.8 690.5V698M487.8 690.5h10M487.8 698h10M495.2 696.1V702.5M490.2 696.1h10M490.2 702.5h10M497.6 691.6V696.3M492.6 691.6h10M492.6 696.3h10M500 683.8V693.4M495 683.8h10M495 693.4h10M502.4 693.2V693.3M497.4 693.2h10M497.4 693.3h10M504.8 693V693.2M499.8 693h10M499.8 693.2h10M507.2 687.1V693.1M502.2 687.1h10M502.2 693.1h10M509.6 691.5V695M504.6 691.5h10M504.6 695h10M512 688V692.6M507 688h10M507 692.6h10M514.5 690.8V697M509.5 690.8h10M509.5 697h10M516.9 692V692.5M511.9 692h10M511.9 692.5h10M519.3 682V693.4M514.3 682h10M514.3 693.4h10M521.7 684V691.8M516.7 684h10M516.7 691.8h10M524.1 691.1V692.3M519.1 691.1h10M519.1 692.3h10M526.5 683.7V692.2M521.5 683.7h10M521.5 692.2h10M528.9 688.6V694.8M523.9 688.6h10M523.9 694.8h10M531.3 687.9V695.8M526.3 687.9h10M526.3 695.8h10M533.7 683.4V691.9M528.7 683.4h10M528.7 691.9h10M536.1 686.5V697.9M531.1 686.5h10M531.1 697.9h10M538.5 686.8V688.1M533.5 686.8h10M533.5 688.1h10M541 686.1V697.6M536 686.1h10M536 697.6h10M543.4 682.8V688.3M538.4 682.8h10M538.4 688.3h10M545.8 682.4V684.7M540.8 682.4h10M540.8 684.7h10M548.2 681.7V686M543.2 681.7h10M543.2 686h10M550.6 683.1V687.3M545.6 683.1h10M545.6 687.3h10M553 681.8V692.1M548 681.8h10M548 692.1h10M555.4 682.8V688.9M550.4 682.8h10M550.4 688.9h10M557.8 684.9V685.6M552.8 684.9h10M552.8 685.6h10M560.2 687.2V695.4M555.2 687.2h10M555.2 695.4h10M562.6 691.2V697M557.6 691.2h10M557.6 697h10M565.1 680.4V689.9M560.1 680.4h10M560.1 689.9h10M567.5 686.6V687.2M562.5 686.6h10M562.5 687.2h10M569.9 686.3V696.3M564.9 686.3h10M564.9 696.3h10M572.3 687.1V697.4M567.3 687.1h10M567.3 697.4h10M574.7 686.2V686.3M569.7 686.2h10M569.7 686.3h10M577.1 685.3V690.8M572.1 685.3h10M572.1 690.8h10M579.5 689V690.4M574.5 689h10M574.5 690.4h10M581.9 683.8V689.9M576.9 683.8h10M576.9 689.9h10M584.3 681.9V683M579.3 681.9h10M579.3 683h10M586.8 683.5V693.7M581.8 683.5h10M581.8 693.7h10M589.2 682.1V684.2M584.2 682.1h10M584.2 684.2h10M591.6 683.8V691.6M586.6 683.8h10M586.6 691.6h10M594 686.1V693.7M589 686.1h10M589 693.7h10M596.4 683.1V686.8M591.4 683.1h10M591.4 686.8h10M598.8 683.9V686.4M593.8 683.9h10M593.8 686.4h10M601.2 680.6V691.2M596.2 680.6h10M596.2 691.2h10M603.6 686.5V687M598.6 686.5h10M598.6 687h10M606 682.9V685.8M601 682.9h10M601 685.8h10M608.4 680.9V684.7M603.4 680.9h10M603.4 684.7h10M610.9 681V687.7M605.9 681h10M605.9 687.7h10M613.3 682.5V686.8M608.3 682.5h10M608.3 686.8h10M615.7 686V687.3M610.7 686h10M610.7 687.3h10M618.1 684.1V690.7M613.1 684.1h10M613.1 690.7h10M620.5 675.1V683.5M615.5 675.1h10M615.5 683.5h10M622.9 673.7V681.8M617.9 673.7h10M617.9 681.8h10M625.3 680.2V685.8M620.3 680.2h10M620.3 685.8h10M627.7 681.4V684.9M622.7 681.4h10M622.7 684.9h10M630.1 678.2V678.3M625.1 678.2h10M625.1 678.3h10M632.5 676.7V682.8M627.5 676.7h10M627.5 682.8h10M634.9 681.2V688.5M629.9 681.2h10M629.9 688.5h10M637.4 679.5V684.6M632.4 679.5h10M632.4 684.6h10M639.8 671.7V682.8M634.8 671.7h10M634.8 682.8h10M642.2 678.7V681.1M637.2 678.7h10M637.2 681.1h10M644.6 675.3V684.7M639.6 675.3h10M639.6 684.7h10M647 673V681.3M642 673h10M642 681.3h10M649.4 669.4V679.8M644.4 669.4h10M644.4 679.8h10M651.8 667.8V678.5M646.8 667.8h10M646.8 678.5h10M654.2 679.9V682.6M649.2 679.9h10M649.2 682.6h10M656.6 676.6V687.2M651.6 676.6h10M651.6 687.2h10M659 681.9V686.6M654 681.9h10M654 686.6h10M661.5 672.6V680.4M656.5 672.6h10M656.5 680.4h10M663.9 671.5V682.5M658.9 671.5h10M658.9 682.5h10M666.3 679.8V686.7M661.3 679.8h10M661.3 686.7h10M668.7 678.9V685.6M663.7 678.9h10M663.7 685.6h10M671.1 682.2V683M666.1 682.2h10M666.1 683h10M673.5 677.6V684.5M668.5 677.6h10M668.5 684.5h10M675.9 678.1V680.9M670.9 678.1h10M670.9 680.9h10M678.3 680V684.4M673.3 680h10M673.3 684.4h10M680.7 678.6V682.9M675.7 678.6h10M675.7 682.9h10M683.1 674.6V685.8M678.1 674.6h10M678.1 685.8h10M685.6 680.8V688.1M680.6 680.8h10M680.6 688.1h10M688 675.3V683.6M683 675.3h10M683 683.6h10M690.4 681.1V683.1M685.4 681.1h10M685.4 683.1h10M692.8 674.3V677.8M687.8 674.3h10M687.8 677.8h10M695.2 671.6V681.7M690.2 671.6h10M690.2 681.7h10M697.6 673.4V674.8M692.6 673.4h10M692.6 674.8h10M700 677.2V688.2M695 677.2h10M695 688.2h10M702.4 683V688M697.4 683h10M697.4 688h10M704.8 679.5V684M699.8 679.5h10M699.8 684h10M707.2 680.8V686.7M702.2 680.8h10M702.2 686.7h10M709.7 679V684.1M704.7 679h10M704.7 684.1h10M712.1 682.6V688M707.1 682.6h10M707.1 688h10M714.5 679.1V684M709.5 679.1h10M709.5 684h10M716.9 675.5V683.6M711.9 675.5h10M711.9 683.6h10M719.3 676.8V680M714.3 676.8h10M714.3 680h10" stroke="#14ac5b" stroke-width="1" fill="none" clip-path="url(#cb)"/>
<path d="M121.6 1101.8h0M124 972.2h0M128.8 791.2h0M131.3 765.8h0M133.7 758.5h0M136.1 731.5h0M138.5 737.3h0M140.9 742.1h0M143.3 737.9h0M145.7 730.7h0M148.1 727.8h0M150.5 729.7h0M152.9 723.7h0M155.4 726.4h0M157.8 720.4h0M160.2 716.9h0M162.6 718h0M165 721.1h0M167.4 721.9h0M169.8 722.5h0M172.2 717.3h0M174.6 710.6h0M177.1 715.1h0M179.5 716.7h0M181.9 714.6h0M184.3 712.1h0M186.7 713.4h0M189.1 708.1h0M191.5 707.7h0M193.9 713.1h0M196.3 713h0M198.7 709.5h0M201.2 715.1h0M203.6 712.3h0M206 713.9h0M208.4 708.3h0M210.8 713.9h0M213.2 711.5h0M215.6 711.2h0M218 710.1h0M220.4 711.2h0M222.8 708.6h0M225.2 714h0M227.7 708.2h0M230.1 709.3h0M232.5 712.6h0M234.9 709.7h0M237.3 712.6h0M239.7 716h0M242.1 710.6h0M244.5 715.2h0M246.9 712.6h0M249.4 706.7h0M251.8 707.1h0M254.2 705.2h0M256.6 709.2h0M259 712.8h0M261.4 710.8h0M263.8 710.3h0M266.2 710.2h0M268.6 707.7h0M271 709.6h0M273.4 710.1h0M275.9 704.9h0M278.3 707.5h0M280.7 705.2h0M283.1 707.6h0M285.5 706.5h0M287.9 704.6h0M290.3 702.2h0M292.7 703.6h0M295.1 705h0M297.6 705.9h0M300 707.7h0M302.4 703.7h0M304.8 704.4h0M307.2 706.5h0M309.6 709.2h0M312 698.3h0M314.4 700.6h0M316.8 704.8h0M319.2 709.9h0M321.7 705.6h0M324.1 702.8h0M326.5 709.7h0M328.9 706.9h0M331.3 706.7h0M333.7 706.7h0M336.1 707.9h0M338.5 702.1h0M340.9 699.4h0M343.3 697.5h0M345.8 701.5h0M348.2 698h0M350.6 701.7h0M353 701.1h0M355.4 707h0M357.8 706.2h0M360.2 702.3h0M362.6 702.4h0M365 702.7h0M367.4 700.6h0M369.9 705.3h0M372.3 705.5h0M374.7 700.7h0M377.1 698.4h0M379.5 698.4h0M381.9 701.9h0M384.3 701.2h0M386.7 698.5h0M389.1 700h0M391.5 704.5h0M394 703.4h0M396.4 697.5h0M398.8 700.4h0M401.2 704.2h0M403.6 704.3h0M406 697.6h0M408.4 700.9h0M410.8 701.5h0M413.2 703.9h0M415.6 695.6h0M418.1 697.6h0M420.5 698.9h0M422.9 693.8h0M425.3 695.1h0M427.7 702.1h0M430.1 702.5h0M432.5 696.1h0M434.9 692.8h0M437.3 694.3h0M439.7 696.1h0M442.2 695.1h0M444.6 695.7h0M447 694.6h0M449.4 693.2h0M451.8 696.5h0M454.2 693h0M456.6 693.6h0M459 691h0M461.4 691.5h0M463.8 693.6h0M466.3 692.2h0M468.7 692.7h0M471.1 688.8h0M473.5 695.9h0M475.9 696.8h0M478.3 694.1h0M480.7 691.8h0M483.1 692.1h0M485.5 694.1h0M487.9 698.4h0M490.4 694.3h0M492.8 694.3h0M495.2 699.3h0M497.6 694h0M500 688.6h0M502.4 693.2h0M504.8 693.1h0M507.2 690.1h0M509.6 693.2h0M512 690.3h0M514.5 693.9h0M516.9 692.2h0M519.3 687.7h0M521.7 687.9h0M524.1 691.7h0M526.5 687.9h0M528.9 691.7h0M531.3 691.8h0M533.7 687.7h0M536.1 692.2h0M538.5 687.4h0M541 691.8h0M543.4 685.5h0M545.8 683.5h0M548.2 683.9h0M550.6 685.2h0M553 687h0M555.4 685.9h0M557.8 685.3h0M560.2 691.3h0M562.6 694.1h0M565.1 685.1h0M567.5 686.9h0M569.9 691.3h0M572.3 692.3h0M574.7 686.2h0M577.1 688.1h0M579.5 689.7h0M581.9 686.8h0M584.3 682.4h0M586.8 688.6h0M589.2 683.1h0M591.6 687.7h0M594 689.9h0M596.4 684.9h0M598.8 685.2h0M601.2 685.9h0M603.6 686.8h0M606 684.4h0M608.4 682.8h0M610.9 684.3h0M613.3 684.6h0M615.7 686.7h0M618.1 687.4h0M620.5 679.3h0M622.9 677.8h0M625.3 683h0M627.7 683.2h0M630.1 678.3h0M632.5 679.8h0M634.9 684.8h0M637.4 682h0M639.8 677.2h0M642.2 679.9h0M644.6 680h0M647 677.1h0M649.4 674.6h0M651.8 673.2h0M654.2 681.3h0M656.6 681.9h0M659 684.2h0M661.5 676.5h0M663.9 677h0M666.3 683.2h0M668.7 682.3h0M671.1 682.6h0M673.5 681h0M675.9 679.5h0M678.3 682.2h0M680.7 680.7h0M683.1 680.2h0M685.6 684.4h0M688 679.4h0M690.4 682.1h0M692.8 676.1h0M695.2 676.7h0M697.6 674.1h0M700 682.7h0M702.4 685.5h0M704.8 681.8h0M707.2 683.7h0M709.7 681.6h0M712.1 685.3h0M714.5 681.5h0M716.9 679.5h0M719.3 678.4h0" stroke="#14ac5b" stroke-width="11.2" stroke-linecap="round" fill="none" clip-path="url(#cb)"/>
<path d="M128.8 878.7V893.8M123.8 878.7h10M123.8 893.8h10M131.3 866.1V884.7M126.3 866.1h10M126.3 884.7h10M133.7 874.3V892.9M128.7 874.3h10M128.7 892.9h10M136.1 867.5V881.8M131.1 867.5h10M131.1 881.8h10M138.5 873.9V887.7M133.5 873.9h10M133.5 887.7h10M140.9 870.9V887.5M135.9 870.9h10M135.9 887.5h10M143.3 881.3V894.4M138.3 881.3h10M138.3 894.4h10M145.7 881V895.6M140.7 881h10M140.7 895.6h10M148.1 885.1V902.2M143.1 885.1h10M143.1 902.2h10M150.5 881.2V892.8M145.5 881.2h10M145.5 892.8h10M152.9 879V896.5M147.9 879h10M147.9 896.5h10M155.4 877.9V895.1M150.4 877.9h10M150.4 895.1h10M157.8 893V907.5M152.8 893h10M152.8 907.5h10M160.2 885V898.5M155.2 885h10M155.2 898.5h10M162.6 887.6V903.3M157.6 887.6h10M157.6 903.3h10M165 882.8V896.6M160 882.8h10M160 896.6h10M167.4 887V904.9M162.4 887h10M162.4 904.9h10M169.8 882.8V898.9M164.8 882.8h10M164.8 898.9h10M172.2 890.6V904.5M167.2 890.6h10M167.2 904.5h10M174.6 886V903.7M169.6 886h10M169.6 903.7h10M177.1 895.7V912M172.1 895.7h10M172.1 912h10M179.5 887.2V899.8M174.5 887.2h10M174.5 899.8h10M181.9 895V909.7M176.9 895h10M176.9 909.7h10M184.3 884.9V900.2M179.3 884.9h10M179.3 900.2h10M186.7 892.1V910.9M181.7 892.1h10M181.7 910.9h10M189.1 886.6V900.7M184.1 886.6h10M184.1 900.7h10M191.5 891V906M186.5 891h10M186.5 906h10M193.9 885V904.1M188.9 885h10M188.9 904.1h10M196.3 889.4V904.2M191.3 889.4h10M191.3 904.2h10M198.7 881.2V899.1M193.7 881.2h10M193.7 899.1h10M201.2 893.6V905.9M196.2 893.6h10M196.2 905.9h10M203.6 883.5V898M198.6 883.5h10M198.6 898h10M206 892.2V905.2M201 892.2h10M201 905.2h10M208.4 878.7V897M203.4 878.7h10M203.4 897h10M210.8 886.5V902.3M205.8 886.5h10M205.8 902.3h10M213.2 881.6V894.9M208.2 881.6h10M208.2 894.9h10M215.6 892V904.3M210.6 892h10M210.6 904.3h10M218 883.2V898M213 883.2h10M213 898h10M220.4 886.9V899.2M215.4 886.9h10M215.4 899.2h10M222.8 875.2V890.5M217.8 875.2h10M217.8 890.5h10M225.2 882.1V899.2M220.2 882.1h10M220.2 899.2h10M227.7 872.5V886.4M222.7 872.5h10M222.7 886.4h10M230.1 881.7V894.5M225.1 881.7h10M225.1 894.5h10M232.5 874V888.3M227.5 874h10M227.5 888.3h10M234.9 880.4V893.3M229.9 880.4h10M229.9 893.3h10M237.3 869.2V887.3M232.3 869.2h10M232.3 887.3h10M239.7 879.6V891.9M234.7 879.6h10M234.7 891.9h10M242.1 864.2V881.4M237.1 864.2h10M237.1 881.4h10M244.5 871.8V885.9M239.5 871.8h10M239.5 885.9h10M246.9 868.6V885.8M241.9 868.6h10M241.9 885.8h10M249.4 874.4V891.9M244.4 874.4h10M244.4 891.9h10M251.8 866.4V879M246.8 866.4h10M246.8 879h10M254.2 872.5V889.9M249.2 872.5h10M249.2 889.9h10M256.6 867.3V886.2M251.6 867.3h10M251.6 886.2h10M259 867.8V883.8M254 867.8h10M254 883.8h10M261.4 859.5V876M256.4 859.5h10M256.4 876h10M263.8 869.6V883.6M258.8 869.6h10M258.8 883.6h10M266.2 858.1V871M261.2 858.1h10M261.2 871h10M268.6 865.9V883.2M263.6 865.9h10M263.6 883.2h10M271 858.8V876.7M266 858.8h10M266 876.7h10M273.4 863.5V876.6M268.4 863.5h10M268.4 876.6h10M275.9 859.4V871.8M270.9 859.4h10M270.9 871.8h10M278.3 862.4V876.7M273.3 862.4h10M273.3 876.7h10M280.7 852.9V869.3M275.7 852.9h10M275.7 869.3h10M283.1 860.1V874.5M278.1 860.1h10M278.1 874.5h10M285.5 850.1V869M280.5 850.1h10M280.5 869h10M287.9 851.1V868.8M282.9 851.1h10M282.9 868.8h10M290.3 845V863.6M285.3 845h10M285.3 863.6h10M292.7 850.8V867M287.7 850.8h10M287.7 867h10M295.1 843.8V861.2M290.1 843.8h10M290.1 861.2h10M297.6 847.1V865.9M292.6 847.1h10M292.6 865.9h10M300 842.6V854.4M295 842.6h10M295 854.4h10M302.4 846.8V862.8M297.4 846.8h10M297.4 862.8h10M304.8 837.7V850.7M299.8 837.7h10M299.8 850.7h10M307.2 845.5V863.2M302.2 845.5h10M302.2 863.2h10M309.6 840.7V854M304.6 840.7h10M304.6 854h10M312 845V862.3M307 845h10M307 862.3h10M314.4 838.6V852.7M309.4 838.6h10M309.4 852.7h10M316.8 840.9V857.5M311.8 840.9h10M311.8 857.5h10M319.2 830.8V847.6M314.2 830.8h10M314.2 847.6h10M321.7 838.5V857.1M316.7 838.5h10M316.7 857.1h10M324.1 829.4V847.7M319.1 829.4h10M319.1 847.7h10M326.5 837V851.9M321.5 837h10M321.5 851.9h10M328.9 829.1V845.9M323.9 829.1h10M323.9 845.9h10M331.3 838.1V851M326.3 838.1h10M326.3 851h10M333.7 829.6V841.9M328.7 829.6h10M328.7 841.9h10M336.1 837.3V854.3M331.1 837.3h10M331.1 854.3h10M338.5 823.4V841.9M333.5 823.4h10M333.5 841.9h10M340.9 828.8V846.1M335.9 828.8h10M335.9 846.1h10M343.3 822.4V838M338.3 822.4h10M338.3 838h10M345.8 829.3V845.7M340.8 829.3h10M340.8 845.7h10M348.2 822.4V839.5M343.2 822.4h10M343.2 839.5h10M350.6 821.1V837.1M345.6 821.1h10M345.6 837.1h10M353 820.2V834.5M348 820.2h10M348 834.5h10M355.4 817.2V835.4M350.4 817.2h10M350.4 835.4h10M357.8 814.5V828.9M352.8 814.5h10M352.8 828.9h10M360.2 819.6V838.1M355.2 819.6h10M355.2 838.1h10M362.6 814.5V832.2M357.6 814.5h10M357.6 832.2h10M365 812.4V830M360 812.4h10M360 830h10M367.4 801.3V819.2M362.4 801.3h10M362.4 819.2h10M369.9 811.5V830.6M364.9 811.5h10M364.9 830.6h10M372.3 800.4V819.6M367.3 800.4h10M367.3 819.6h10M374.7 804.9V820.4M369.7 804.9h10M369.7 820.4h10M377.1 797.5V812M372.1 797.5h10M372.1 812h10M379.5 800.4V817.6M374.5 800.4h10M374.5 817.6h10M381.9 797.6V816.6M376.9 797.6h10M376.9 816.6h10M384.3 800.2V816.6M379.3 800.2h10M379.3 816.6h10M386.7 797.3V809M381.7 797.3h10M381.7 809h10M389.1 794V805.8M384.1 794h10M384.1 805.8h10M391.5 788.7V803.9M386.5 788.7h10M386.5 803.9h10M394 792.6V810.2M389 792.6h10M389 810.2h10M396.4 778V796.4M391.4 778h10M391.4 796.4h10M398.8 787.1V801.6M393.8 787.1h10M393.8 801.6h10M401.2 777.7V793.3M396.2 777.7h10M396.2 793.3h10M403.6 788.1V803.6M398.6 788.1h10M398.6 803.6h10M406 780.3V792.6M401 780.3h10M401 792.6h10M408.4 781.7V793.2M403.4 781.7h10M403.4 793.2h10M410.8 771.4V787M405.8 771.4h10M405.8 787h10M413.2 778.8V794.2M408.2 778.8h10M408.2 794.2h10M415.6 767.9V786.1M410.6 767.9h10M410.6 786.1h10M418.1 776V788.9M413.1 776h10M413.1 788.9h10M420.5 768.3V786.4M415.5 768.3h10M415.5 786.4h10M422.9 775.9V789.5M417.9 775.9h10M417.9 789.5h10M425.3 768V783.7M420.3 768h10M420.3 783.7h10M427.7 775.1V792.1M422.7 775.1h10M422.7 792.1h10M430.1 764.7V777.4M425.1 764.7h10M425.1 777.4h10M432.5 773.4V792.2M427.5 773.4h10M427.5 792.2h10M434.9 759V777.9M429.9 759h10M429.9 777.9h10M437.3 766.6V785.6M432.3 766.6h10M432.3 785.6h10M439.7 762.3V773.8M434.7 762.3h10M434.7 773.8h10M442.2 777.8V804.7M437.2 777.8h10M437.2 804.7h10M444.6 753.1V769.8M439.6 753.1h10M439.6 769.8h10M447 745V756.6M442 745h10M442 756.6h10M449.4 750.1V763.3M444.4 750.1h10M444.4 763.3h10M451.8 758.8V771.3M446.8 758.8h10M446.8 771.3h10M454.2 751.5V769.3M449.2 751.5h10M449.2 769.3h10M456.6 762.4V776M451.6 762.4h10M451.6 776h10M459 749.3V761.4M454 749.3h10M454 761.4h10M461.4 757.1V769.3M456.4 757.1h10M456.4 769.3h10M463.8 741.2V757.7M458.8 741.2h10M458.8 757.7h10M466.3 752.9V768.6M461.3 752.9h10M461.3 768.6h10M468.7 745.6V762.9M463.7 745.6h10M463.7 762.9h10M471.1 761.2V778.9M466.1 761.2h10M466.1 778.9h10M473.5 741V752.5M468.5 741h10M468.5 752.5h10M475.9 751.4V770.1M470.9 751.4h10M470.9 770.1h10M478.3 738.8V757.1M473.3 738.8h10M473.3 757.1h10M480.7 749.3V768.1M475.7 749.3h10M475.7 768.1h10M483.1 738.2V755.7M478.1 738.2h10M478.1 755.7h10M485.5 743.5V758M480.5 743.5h10M480.5 758h10M487.9 743.2V756.6M482.9 743.2h10M482.9 756.6h10M490.4 746.9V765.5M485.4 746.9h10M485.4 765.5h10M492.8 741V755.8M487.8 741h10M487.8 755.8h10M495.2 743.9V759.2M490.2 743.9h10M490.2 759.2h10M497.6 732.1V749M492.6 732.1h10M492.6 749h10M500 739V755.8M495 739h10M495 755.8h10M502.4 734.2V751.1M497.4 734.2h10M497.4 751.1h10M504.8 733.8V750.1M499.8 733.8h10M499.8 750.1h10M507.2 727.8V743.3M502.2 727.8h10M502.2 743.3h10M509.6 729.8V747.2M504.6 729.8h10M504.6 747.2h10M512 722.7V737.3M507 722.7h10M507 737.3h10M514.5 729.5V743.1M509.5 729.5h10M509.5 743.1h10M516.9 724.2V742.8M511.9 724.2h10M511.9 742.8h10M519.3 728V746.1M514.3 728h10M514.3 746.1h10M521.7 721V738M516.7 721h10M516.7 738h10M524.1 727V739.8M519.1 727h10M519.1 739.8h10M526.5 748.9V772M521.5 748.9h10M521.5 772h10M528.9 700.7V739.2M523.9 700.7h10M523.9 739.2h10M531.3 713.8V732.6M526.3 713.8h10M526.3 732.6h10M533.7 725.1V738.7M528.7 725.1h10M528.7 738.7h10M536.1 717.2V733.6M531.1 717.2h10M531.1 733.6h10M538.5 727.4V739.1M533.5 727.4h10M533.5 739.1h10M541 717.8V732.4M536 717.8h10M536 732.4h10M543.4 725.8V742.8M538.4 725.8h10M538.4 742.8h10M545.8 719.4V733.7M540.8 719.4h10M540.8 733.7h10M548.2 724.3V742.1M543.2 724.3h10M543.2 742.1h10M550.6 715.8V734.4M545.6 715.8h10M545.6 734.4h10M553 728.8V741.4M548 728.8h10M548 741.4h10M555.4 712V728.8M550.4 712h10M550.4 728.8h10M557.8 721.2V735.7M552.8 721.2h10M552.8 735.7h10M560.2 718.4V731.3M555.2 718.4h10M555.2 731.3h10M562.6 724.5V738.7M557.6 724.5h10M557.6 738.7h10M565.1 719.4V734.7M560.1 719.4h10M560.1 734.7h10M567.5 721.6V740.1M562.5 721.6h10M562.5 740.1h10M569.9 719V736.4M564.9 719h10M564.9 736.4h10M572.3 726.4V738M567.3 726.4h10M567.3 738h10M574.7 724.2V736.1M569.7 724.2h10M569.7 736.1h10M577.1 727.7V746.9M572.1 727.7h10M572.1 746.9h10M579.5 727.4V743.2M574.5 727.4h10M574.5 743.2h10M581.9 657V749.4M576.9 657h10M576.9 749.4h10M584.3 712.1V726.3M579.3 712.1h10M579.3 726.3h10M586.8 719.6V737.6M581.8 719.6h10M581.8 737.6h10M589.2 709.9V725.7M584.2 709.9h10M584.2 725.7h10M591.6 715.9V732.1M586.6 715.9h10M586.6 732.1h10M594 707.7V721.2M589 707.7h10M589 721.2h10M596.4 713.4V730.9M591.4 713.4h10M591.4 730.9h10M598.8 708.7V721.9M593.8 708.7h10M593.8 721.9h10M601.2 714.5V727.1M596.2 714.5h10M596.2 727.1h10M603.6 708.9V725.1M598.6 708.9h10M598.6 725.1h10M606 716V733.9M601 716h10M601 733.9h10M608.4 706.1V719.9M603.4 706.1h10M603.4 719.9h10M610.9 714.2V728M605.9 714.2h10M605.9 728h10M613.3 708V720.7M608.3 708h10M608.3 720.7h10M615.7 716V732.2M610.7 716h10M610.7 732.2h10M618.1 708.2V725.7M613.1 708.2h10M613.1 725.7h10M620.5 717.7V730.2M615.5 717.7h10M615.5 730.2h10M622.9 702.6V718.2M617.9 702.6h10M617.9 718.2h10M625.3 708.6V724.3M620.3 708.6h10M620.3 724.3h10M627.7 703.2V715.6M622.7 703.2h10M622.7 715.6h10M630.1 709.7V725.3M625.1 709.7h10M625.1 725.3h10M632.5 689.2V710.4M627.5 689.2h10M627.5 710.4h10M634.9 705V718.1M629.9 705h10M629.9 718.1h10M637.4 699.9V719M632.4 699.9h10M632.4 719h10M639.8 708.1V720.4M634.8 708.1h10M634.8 720.4h10M642.2 703V717.2M637.2 703h10M637.2 717.2h10M644.6 702.2V718.5M639.6 702.2h10M639.6 718.5h10M647 699.2V713.9M642 699.2h10M642 713.9h10M649.4 705.6V717.3M644.4 705.6h10M644.4 717.3h10M651.8 696.2V714.4M646.8 696.2h10M646.8 714.4h10M654.2 705.2V718.6M649.2 705.2h10M649.2 718.6h10M656.6 695.9V710.6M651.6 695.9h10M651.6 710.6h10M659 695.6V714.2M654 695.6h10M654 714.2h10M661.5 694.5V713.5M656.5 694.5h10M656.5 713.5h10M663.9 695.1V713.7M658.9 695.1h10M658.9 713.7h10M666.3 690.8V705.5M661.3 690.8h10M661.3 705.5h10M668.7 696.9V714.2M663.7 696.9h10M663.7 714.2h10M671.1 689.3V707.4M666.1 689.3h10M666.1 707.4h10M673.5 700.3V713.4M668.5 700.3h10M668.5 713.4h10M675.9 690.8V709.8M670.9 690.8h10M670.9 709.8h10M678.3 691.6V704M673.3 691.6h10M673.3 704h10M680.7 689.8V706.5M675.7 689.8h10M675.7 706.5h10M683.1 697.1V710.5M678.1 697.1h10M678.1 710.5h10M685.6 693.2V706.4M680.6 693.2h10M680.6 706.4h10M688 686.7V699.3M683 686.7h10M683 699.3h10M690.4 690.3V709.1M685.4 690.3h10M685.4 709.1h10M692.8 697.3V709.9M687.8 697.3h10M687.8 709.9h10M695.2 690V708.6M690.2 690h10M690.2 708.6h10M697.6 698.1V710.9M692.6 698.1h10M692.6 710.9h10M700 688.9V703M695 688.9h10M695 703h10M702.4 700.1V713.2M697.4 700.1h10M697.4 713.2h10M704.8 681.9V701.1M699.8 681.9h10M699.8 701.1h10M707.2 690.6V702.8M702.2 690.6h10M702.2 702.8h10M709.7 681.2V699.4M704.7 681.2h10M704.7 699.4h10M712.1 690.1V704M707.1 690.1h10M707.1 704h10M714.5 686.4V705.3M709.5 686.4h10M709.5 705.3h10M716.9 693.4V710.7M711.9 693.4h10M711.9 710.7h10M719.3 687V700.6M714.3 687h10M714.3 700.6h10" stroke="#1a1a1a" stroke-width="1" fill="none" clip-path="url(#cb)"/>
<path d="M124 886.2h9.6M126.5 875.4h9.6M128.9 883.6h9.6M131.3 874.7h9.6M133.7 880.8h9.6M136.1 879.2h9.6M138.5 887.9h9.6M140.9 888.3h9.6M143.3 893.7h9.6M145.7 887h9.6M148.1 887.8h9.6M150.6 886.5h9.6M153 900.2h9.6M155.4 891.8h9.6M157.8 895.5h9.6M160.2 889.7h9.6M162.6 896h9.6M165 890.8h9.6M167.4 897.5h9.6M169.8 894.8h9.6M172.2 903.9h9.6M174.7 893.5h9.6M177.1 902.3h9.6M179.5 892.5h9.6M181.9 901.5h9.6M184.3 893.7h9.6M186.7 898.5h9.6M189.1 894.5h9.6M191.5 896.8h9.6M193.9 890.2h9.6M196.3 899.7h9.6M198.8 890.7h9.6M201.2 898.7h9.6M203.6 887.9h9.6M206 894.4h9.6M208.4 888.3h9.6M210.8 898.2h9.6M213.2 890.6h9.6M215.6 893.1h9.6M218 882.9h9.6M220.4 890.6h9.6M222.9 879.5h9.6M225.3 888.1h9.6M227.7 881.1h9.6M230.1 886.9h9.6M232.5 878.3h9.6M234.9 885.7h9.6M237.3 872.8h9.6M239.7 878.8h9.6M242.1 877.2h9.6M244.6 883.2h9.6M247 872.7h9.6M249.4 881.2h9.6M251.8 876.8h9.6M254.2 875.8h9.6M256.6 867.8h9.6M259 876.6h9.6M261.4 864.5h9.6M263.8 874.6h9.6M266.2 867.7h9.6M268.6 870h9.6M271.1 865.6h9.6M273.5 869.6h9.6M275.9 861.1h9.6M278.3 867.3h9.6M280.7 859.6h9.6M283.1 860h9.6M285.5 854.3h9.6M287.9 858.9h9.6M290.3 852.5h9.6M292.8 856.5h9.6M295.2 848.5h9.6M297.6 854.8h9.6M300 844.2h9.6M302.4 854.4h9.6M304.8 847.4h9.6M307.2 853.6h9.6M309.6 845.6h9.6M312 849.2h9.6M314.4 839.2h9.6M316.9 847.8h9.6M319.3 838.5h9.6M321.7 844.4h9.6M324.1 837.5h9.6M326.5 844.6h9.6M328.9 835.7h9.6M331.3 845.8h9.6M333.7 832.6h9.6M336.1 837.5h9.6M338.5 830.2h9.6M340.9 837.5h9.6M343.4 831h9.6M345.8 829.1h9.6M348.2 827.4h9.6M350.6 826.3h9.6M353 821.7h9.6M355.4 828.9h9.6M357.8 823.4h9.6M360.2 821.2h9.6M362.6 810.2h9.6M365.1 821.1h9.6M367.5 810h9.6M369.9 812.7h9.6M372.3 804.7h9.6M374.7 809h9.6M377.1 807.1h9.6M379.5 808.4h9.6M381.9 803.2h9.6M384.3 799.9h9.6M386.7 796.3h9.6M389.2 801.4h9.6M391.6 787.2h9.6M394 794.3h9.6M396.4 785.5h9.6M398.8 795.8h9.6M401.2 786.5h9.6M403.6 787.5h9.6M406 779.2h9.6M408.4 786.5h9.6M410.8 777h9.6M413.2 782.4h9.6M415.7 777.3h9.6M418.1 782.7h9.6M420.5 775.9h9.6M422.9 783.6h9.6M425.3 771h9.6M427.7 782.8h9.6M430.1 768.5h9.6M432.5 776.1h9.6M434.9 768.1h9.6M437.4 791.2h9.6M439.8 761.5h9.6M442.2 750.8h9.6M444.6 756.7h9.6M447 765.1h9.6M449.4 760.4h9.6M451.8 769.2h9.6M454.2 755.4h9.6M456.6 763.2h9.6M459 749.5h9.6M461.5 760.8h9.6M463.9 754.2h9.6M466.3 770.1h9.6M468.7 746.8h9.6M471.1 760.7h9.6M473.5 748h9.6M475.9 758.7h9.6M478.3 746.9h9.6M480.7 750.8h9.6M483.1 749.9h9.6M485.6 756.2h9.6M488 748.4h9.6M490.4 751.5h9.6M492.8 740.6h9.6M495.2 747.4h9.6M497.6 742.6h9.6M500 741.9h9.6M502.4 735.5h9.6M504.8 738.5h9.6M507.2 730h9.6M509.7 736.3h9.6M512.1 733.5h9.6M514.5 737h9.6M516.9 729.5h9.6M519.3 733.4h9.6M521.7 760.4h9.6M524.1 720h9.6M526.5 723.2h9.6M528.9 731.9h9.6M531.3 725.4h9.6M533.8 733.3h9.6M536.2 725.1h9.6M538.6 734.3h9.6M541 726.6h9.6M543.4 733.2h9.6M545.8 725.1h9.6M548.2 735.1h9.6M550.6 720.4h9.6M553 728.4h9.6M555.4 724.9h9.6M557.9 731.6h9.6M560.3 727h9.6M562.7 730.9h9.6M565.1 727.7h9.6M567.5 732.2h9.6M569.9 730.2h9.6M572.3 737.3h9.6M574.7 735.3h9.6M577.1 703.2h9.6M579.5 719.2h9.6M582 728.6h9.6M584.4 717.8h9.6M586.8 724h9.6M589.2 714.5h9.6M591.6 722.2h9.6M594 715.3h9.6M596.4 720.8h9.6M598.8 717h9.6M601.2 724.9h9.6M603.6 713h9.6M606.1 721.1h9.6M608.5 714.4h9.6M610.9 724.1h9.6M613.3 716.9h9.6M615.7 724h9.6M618.1 710.4h9.6M620.5 716.5h9.6M622.9 709.4h9.6M625.3 717.5h9.6M627.7 696.9h9.6M630.1 711.5h9.6M632.6 709.5h9.6M635 714.2h9.6M637.4 710.1h9.6M639.8 710.4h9.6M642.2 706.5h9.6M644.6 711.5h9.6M647 705.3h9.6M649.4 711.9h9.6M651.8 703.2h9.6M654.2 704.9h9.6M656.7 704h9.6M659.1 704.4h9.6M661.5 698.2h9.6M663.9 705.6h9.6M666.3 698.3h9.6M668.7 706.9h9.6M671.1 700.3h9.6M673.5 697.8h9.6M675.9 698.2h9.6M678.4 703.8h9.6M680.8 699.8h9.6M683.2 693h9.6M685.6 699.7h9.6M688 703.6h9.6M690.4 699.3h9.6M692.8 704.5h9.6M695.2 695.9h9.6M697.6 706.6h9.6M700 691.5h9.6M702.5 696.7h9.6M704.9 690.3h9.6M707.3 697h9.6M709.7 695.8h9.6M712.1 702.1h9.6M714.5 693.8h9.6" stroke="#000000" stroke-width="9.6" fill="none" clip-path="url(#cb)"/>
<path d="M121.6 951.5V1218.7M115.9 951.5h11.5M115.9 1218.7h11.5M124 951.5V1252.2M118.3 951.5h11.5M118.3 1252.2h11.5M128.8 829.6V1214.8M123.1 829.6h11.5M123.1 1214.8h11.5M442.2 587.1V766.2M436.4 587.1h11.5M436.4 766.2h11.5" stroke="#ffcf9c" stroke-width="1.2" fill="none" clip-path="url(#cb)"/><path d="M133.7 771.7V786.9M127.9 771.7h11.5M127.9 786.9h11.5M136.1 762.5V779.4M130.3 762.5h11.5M130.3 779.4h11.5M138.5 764.2V777.2M132.7 764.2h11.5M132.7 777.2h11.5M140.9 764.9V779.5M135.2 764.9h11.5M135.2 779.5h11.5M143.3 766.5V783.4M137.6 766.5h11.5M137.6 783.4h11.5M145.7 770.9V785.2M140 770.9h11.5M140 785.2h11.5M148.1 772.1V789.3M142.4 772.1h11.5M142.4 789.3h11.5M150.5 775.2V791.7M144.8 775.2h11.5M144.8 791.7h11.5M152.9 779.8V792.4M147.2 779.8h11.5M147.2 792.4h11.5M155.4 781.8V796.3M149.6 781.8h11.5M149.6 796.3h11.5M157.8 783.3V800M152 783.3h11.5M152 800h11.5M160.2 787.5V802.9M154.4 787.5h11.5M154.4 802.9h11.5M162.6 790.1V806.4M156.8 790.1h11.5M156.8 806.4h11.5M165 792.8V810.8M159.2 792.8h11.5M159.2 810.8h11.5M167.4 795.8V812M161.7 795.8h11.5M161.7 812h11.5M169.8 799.7V815.2M164.1 799.7h11.5M164.1 815.2h11.5M172.2 801.5V818.7M166.5 801.5h11.5M166.5 818.7h11.5M174.6 806.2V821M168.9 806.2h11.5M168.9 821h11.5M177.1 810.3V822.7M171.3 810.3h11.5M171.3 822.7h11.5M179.5 813.4V827.3M173.7 813.4h11.5M173.7 827.3h11.5M181.9 815.4V831.1M176.1 815.4h11.5M176.1 831.1h11.5M184.3 816.8V834.6M178.5 816.8h11.5M178.5 834.6h11.5M186.7 822.6V838.4M180.9 822.6h11.5M180.9 838.4h11.5M189.1 825.9V839.8M183.4 825.9h11.5M183.4 839.8h11.5M191.5 826.9V845M185.8 826.9h11.5M185.8 845h11.5M193.9 832.4V847M188.2 832.4h11.5M188.2 847h11.5M196.3 836V849.7M190.6 836h11.5M190.6 849.7h11.5M198.7 838.1V853.7M193 838.1h11.5M193 853.7h11.5M201.2 842.7V857M195.4 842.7h11.5M195.4 857h11.5M203.6 846.2V859.2M197.8 846.2h11.5M197.8 859.2h11.5M206 848.1V864.6M200.2 848.1h11.5M200.2 864.6h11.5M208.4 851.5V867.8M202.6 851.5h11.5M202.6 867.8h11.5M210.8 854.3V872.2M205 854.3h11.5M205 872.2h11.5M213.2 860.3V873.4M207.4 860.3h11.5M207.4 873.4h11.5M215.6 861.8V879.4M209.9 861.8h11.5M209.9 879.4h11.5M218 866V882.9M212.3 866h11.5M212.3 882.9h11.5M220.4 872.3V886.1M214.7 872.3h11.5M214.7 886.1h11.5M222.8 874.3V889.4M217.1 874.3h11.5M217.1 889.4h11.5M225.2 878.1V894.1M219.5 878.1h11.5M219.5 894.1h11.5M227.7 883V897.2M221.9 883h11.5M221.9 897.2h11.5M230.1 888.1V901.1M224.3 888.1h11.5M224.3 901.1h11.5M232.5 890.1V907.3M226.7 890.1h11.5M226.7 907.3h11.5M234.9 895.6V908.9M229.1 895.6h11.5M229.1 908.9h11.5M237.3 897.7V912.8M231.6 897.7h11.5M231.6 912.8h11.5M239.7 900.8V915.7M234 900.8h11.5M234 915.7h11.5M242.1 900.4V918M236.4 900.4h11.5M236.4 918h11.5M244.5 902.2V917.8M238.8 902.2h11.5M238.8 917.8h11.5M246.9 905.9V920.7M241.2 905.9h11.5M241.2 920.7h11.5M249.4 904.6V922.6M243.6 904.6h11.5M243.6 922.6h11.5M251.8 908V922.4M246 908h11.5M246 922.4h11.5M254.2 908.4V925M248.4 908.4h11.5M248.4 925h11.5M256.6 910.5V924.2M250.8 910.5h11.5M250.8 924.2h11.5M259 911.1V927.8M253.2 911.1h11.5M253.2 927.8h11.5M261.4 911.5V928.1M255.7 911.5h11.5M255.7 928.1h11.5M263.8 911.5V928.6M258.1 911.5h11.5M258.1 928.6h11.5M266.2 913.9V929M260.5 913.9h11.5M260.5 929h11.5M268.6 915.4V929M262.9 915.4h11.5M262.9 929h11.5M271 914.6V930.6M265.3 914.6h11.5M265.3 930.6h11.5M273.4 914.4V932M267.7 914.4h11.5M267.7 932h11.5M275.9 915.5V929.6M270.1 915.5h11.5M270.1 929.6h11.5M278.3 917.1V929.5M272.5 917.1h11.5M272.5 929.5h11.5M280.7 915.5V928.9M274.9 915.5h11.5M274.9 928.9h11.5M283.1 913.5V931.2M277.3 913.5h11.5M277.3 931.2h11.5M285.5 914.8V927.1M279.8 914.8h11.5M279.8 927.1h11.5M287.9 914.2V926.9M282.2 914.2h11.5M282.2 926.9h11.5M290.3 914.2V927.1M284.6 914.2h11.5M284.6 927.1h11.5M292.7 909.9V927.4M287 909.9h11.5M287 927.4h11.5M295.1 910.7V925.2M289.4 910.7h11.5M289.4 925.2h11.5M297.6 908.3V924.7M291.8 908.3h11.5M291.8 924.7h11.5M300 906.2V922.6M294.2 906.2h11.5M294.2 922.6h11.5M302.4 906.8V921.6M296.6 906.8h11.5M296.6 921.6h11.5M304.8 904.5V921.1M299 904.5h11.5M299 921.1h11.5M307.2 903V917.9M301.4 903h11.5M301.4 917.9h11.5M309.6 901.9V917.3M303.9 901.9h11.5M303.9 917.3h11.5M312 900.6V914.7M306.3 900.6h11.5M306.3 914.7h11.5M314.4 900.5V912.9M308.7 900.5h11.5M308.7 912.9h11.5M316.8 897.8V913.5M311.1 897.8h11.5M311.1 913.5h11.5M319.2 896.8V910.7M313.5 896.8h11.5M313.5 910.7h11.5M321.7 894.7V908.6M315.9 894.7h11.5M315.9 908.6h11.5M324.1 891.4V908.8M318.3 891.4h11.5M318.3 908.8h11.5M326.5 891.6V906M320.7 891.6h11.5M320.7 906h11.5M328.9 890.6V903.5M323.1 890.6h11.5M323.1 903.5h11.5M331.3 887.4V903.4M325.5 887.4h11.5M325.5 903.4h11.5M333.7 886.2V901.6M327.9 886.2h11.5M327.9 901.6h11.5M336.1 884.9V897.5M330.4 884.9h11.5M330.4 897.5h11.5M338.5 883.1V897.4M332.8 883.1h11.5M332.8 897.4h11.5M340.9 881V896.8M335.2 881h11.5M335.2 896.8h11.5M343.3 879.9V893.8M337.6 879.9h11.5M337.6 893.8h11.5M345.8 875.6V893.6M340 875.6h11.5M340 893.6h11.5M348.2 870.3V895.3M342.4 870.3h11.5M342.4 895.3h11.5M350.6 867.8V894.7M344.8 867.8h11.5M344.8 894.7h11.5M353 868V891.3M347.2 868h11.5M347.2 891.3h11.5M355.4 869.5V885.4M349.6 869.5h11.5M349.6 885.4h11.5M357.8 865.4V887M352.1 865.4h11.5M352.1 887h11.5M360.2 866.4V882.2M354.5 866.4h11.5M354.5 882.2h11.5M362.6 858.9V882.5M356.9 858.9h11.5M356.9 882.5h11.5M365 862.3V878.6M359.3 862.3h11.5M359.3 878.6h11.5M367.4 855.7V878.4M361.7 855.7h11.5M361.7 878.4h11.5M369.9 856.4V873.8M364.1 856.4h11.5M364.1 873.8h11.5M372.3 849.2V876.1M366.5 849.2h11.5M366.5 876.1h11.5M374.7 852.3V869M368.9 852.3h11.5M368.9 869h11.5M377.1 842.2V866.5M371.3 842.2h11.5M371.3 866.5h11.5M379.5 843.2V868.1M373.7 843.2h11.5M373.7 868.1h11.5M381.9 847.3V866.4M376.2 847.3h11.5M376.2 866.4h11.5M384.3 842.6V866M378.6 842.6h11.5M378.6 866h11.5M386.7 841.8V861.7M381 841.8h11.5M381 861.7h11.5M389.1 841.8V860.7M383.4 841.8h11.5M383.4 860.7h11.5M391.5 839V857.9M385.8 839h11.5M385.8 857.9h11.5M394 839.2V854.9M388.2 839.2h11.5M388.2 854.9h11.5M396.4 835V859.5M390.6 835h11.5M390.6 859.5h11.5M398.8 833.8V850.2M393 833.8h11.5M393 850.2h11.5M401.2 831.8V849.9M395.4 831.8h11.5M395.4 849.9h11.5M403.6 830.5V847.1M397.8 830.5h11.5M397.8 847.1h11.5M406 824.4V850.6M400.3 824.4h11.5M400.3 850.6h11.5M408.4 819.6V842.1M402.7 819.6h11.5M402.7 842.1h11.5M410.8 815.6V837.3M405.1 815.6h11.5M405.1 837.3h11.5M413.2 814.9V838.2M407.5 814.9h11.5M407.5 838.2h11.5M415.6 817.1V843.4M409.9 817.1h11.5M409.9 843.4h11.5M418.1 810.6V834.4M412.3 810.6h11.5M412.3 834.4h11.5M420.5 813V835.3M414.7 813h11.5M414.7 835.3h11.5M422.9 812.2V831.8M417.1 812.2h11.5M417.1 831.8h11.5M425.3 804.1V826.5M419.5 804.1h11.5M419.5 826.5h11.5M427.7 803.4V832.1M421.9 803.4h11.5M421.9 832.1h11.5M430.1 807.4V830.5M424.4 807.4h11.5M424.4 830.5h11.5M432.5 804.3V826.2M426.8 804.3h11.5M426.8 826.2h11.5M434.9 801.2V828.6M429.2 801.2h11.5M429.2 828.6h11.5M437.3 803.2V819.4M431.6 803.2h11.5M431.6 819.4h11.5M439.7 802.4V818.6M434 802.4h11.5M434 818.6h11.5M444.6 797.4V825.5M438.8 797.4h11.5M438.8 825.5h11.5M447 797.4V813.5M441.2 797.4h11.5M441.2 813.5h11.5M449.4 797.8V813.5M443.6 797.8h11.5M443.6 813.5h11.5M451.8 796.6V812.1M446 796.6h11.5M446 812.1h11.5M454.2 789.7V812.8M448.5 789.7h11.5M448.5 812.8h11.5M456.6 794V811.2M450.9 794h11.5M450.9 811.2h11.5M459 788.6V811.6M453.3 788.6h11.5M453.3 811.6h11.5M461.4 786.7V811.1M455.7 786.7h11.5M455.7 811.1h11.5M463.8 788.2V803.9M458.1 788.2h11.5M458.1 803.9h11.5M466.3 783.6V810.8M460.5 783.6h11.5M460.5 810.8h11.5M468.7 788.7V807.5M462.9 788.7h11.5M462.9 807.5h11.5M471.1 780.8V803.6M465.3 780.8h11.5M465.3 803.6h11.5M473.5 776.2V796.3M467.7 776.2h11.5M467.7 796.3h11.5M475.9 781.1V801.2M470.1 781.1h11.5M470.1 801.2h11.5M478.3 780.6V801.5M472.6 780.6h11.5M472.6 801.5h11.5M480.7 786.8V802.3M475 786.8h11.5M475 802.3h11.5M483.1 784.6V805.8M477.4 784.6h11.5M477.4 805.8h11.5M485.5 782.1V801M479.8 782.1h11.5M479.8 801h11.5M487.9 778.3V798.5M482.2 778.3h11.5M482.2 798.5h11.5M490.4 777V794.6M484.6 777h11.5M484.6 794.6h11.5M492.8 772.8V792.7M487 772.8h11.5M487 792.7h11.5M495.2 771V795.8M489.4 771h11.5M489.4 795.8h11.5M497.6 774V802.7M491.8 774h11.5M491.8 802.7h11.5M500 772.6V790.6M494.2 772.6h11.5M494.2 790.6h11.5M502.4 768.6V795.7M496.7 768.6h11.5M496.7 795.7h11.5M504.8 772.8V796.5M499.1 772.8h11.5M499.1 796.5h11.5M507.2 774.6V791.4M501.5 774.6h11.5M501.5 791.4h11.5M509.6 766.2V781.8M503.9 766.2h11.5M503.9 781.8h11.5M512 765.2V792.5M506.3 765.2h11.5M506.3 792.5h11.5M514.5 773.9V792.4M508.7 773.9h11.5M508.7 792.4h11.5M516.9 776.7V793.5M511.1 776.7h11.5M511.1 793.5h11.5M519.3 771.8V796M513.5 771.8h11.5M513.5 796h11.5M521.7 771.7V796.7M515.9 771.7h11.5M515.9 796.7h11.5M524.1 774.5V801.9M518.3 774.5h11.5M518.3 801.9h11.5M526.5 773V795.1M520.8 773h11.5M520.8 795.1h11.5M528.9 778.1V797.8M523.2 778.1h11.5M523.2 797.8h11.5M531.3 776.4V796.1M525.6 776.4h11.5M525.6 796.1h11.5M533.7 778.2V796.4M528 778.2h11.5M528 796.4h11.5M536.1 771.1V795.1M530.4 771.1h11.5M530.4 795.1h11.5M538.5 774.6V802.7M532.8 774.6h11.5M532.8 802.7h11.5M541 781.9V798.5M535.2 781.9h11.5M535.2 798.5h11.5M543.4 778.6V799.3M537.6 778.6h11.5M537.6 799.3h11.5M545.8 778.3V798.4M540 778.3h11.5M540 798.4h11.5M548.2 781.8V798.3M542.4 781.8h11.5M542.4 798.3h11.5M550.6 774V797.5M544.9 774h11.5M544.9 797.5h11.5M553 776.9V805.6M547.3 776.9h11.5M547.3 805.6h11.5M555.4 783.6V802.8M549.7 783.6h11.5M549.7 802.8h11.5M557.8 780.4V805.6M552.1 780.4h11.5M552.1 805.6h11.5M560.2 775.7V803.2M554.5 775.7h11.5M554.5 803.2h11.5M562.6 777.1V796.1M556.9 777.1h11.5M556.9 796.1h11.5M565.1 785V812.8M559.3 785h11.5M559.3 812.8h11.5M567.5 779.7V805.2M561.7 779.7h11.5M561.7 805.2h11.5M569.9 776.3V800.4M564.1 776.3h11.5M564.1 800.4h11.5M572.3 778.2V796.2M566.5 778.2h11.5M566.5 796.2h11.5M574.7 779.6V798.8M569 779.6h11.5M569 798.8h11.5M577.1 789.6V806.4M571.4 789.6h11.5M571.4 806.4h11.5M579.5 779.6V807.1M573.8 779.6h11.5M573.8 807.1h11.5M581.9 780.2V806.5M576.2 780.2h11.5M576.2 806.5h11.5M584.3 777.1V793.7M578.6 777.1h11.5M578.6 793.7h11.5M586.8 780.2V802.7M581 780.2h11.5M581 802.7h11.5M589.2 780.6V798.9M583.4 780.6h11.5M583.4 798.9h11.5M591.6 774.3V800M585.8 774.3h11.5M585.8 800h11.5M594 778.2V801.4M588.2 778.2h11.5M588.2 801.4h11.5M596.4 775.1V803.3M590.6 775.1h11.5M590.6 803.3h11.5M598.8 780.5V805.7M593 780.5h11.5M593 805.7h11.5M601.2 784V800.7M595.5 784h11.5M595.5 800.7h11.5M603.6 781.4V801.8M597.9 781.4h11.5M597.9 801.8h11.5M606 781.4V804.6M600.3 781.4h11.5M600.3 804.6h11.5M608.4 779.2V806.9M602.7 779.2h11.5M602.7 806.9h11.5M610.9 781.6V802M605.1 781.6h11.5M605.1 802h11.5M613.3 782.3V800.3M607.5 782.3h11.5M607.5 800.3h11.5M615.7 784.3V803.5M609.9 784.3h11.5M609.9 803.5h11.5M618.1 777.5V796.3M612.3 777.5h11.5M612.3 796.3h11.5M620.5 780.8V798.3M614.7 780.8h11.5M614.7 798.3h11.5M622.9 779.9V799.9M617.1 779.9h11.5M617.1 799.9h11.5M625.3 772.9V826.9M619.6 772.9h11.5M619.6 826.9h11.5M627.7 776.9V799.2M622 776.9h11.5M622 799.2h11.5M630.1 774.3V801.8M624.4 774.3h11.5M624.4 801.8h11.5M632.5 772.8V801.1M626.8 772.8h11.5M626.8 801.1h11.5M634.9 778.2V795.8M629.2 778.2h11.5M629.2 795.8h11.5M637.4 776.7V799.8M631.6 776.7h11.5M631.6 799.8h11.5M639.8 774.4V798.9M634 774.4h11.5M634 798.9h11.5M642.2 782.7V800.1M636.4 782.7h11.5M636.4 800.1h11.5M644.6 780.6V803.2M638.8 780.6h11.5M638.8 803.2h11.5M647 781.5V799.6M641.2 781.5h11.5M641.2 799.6h11.5M649.4 778.5V798.9M643.7 778.5h11.5M643.7 798.9h11.5M651.8 785.4V805.2M646.1 785.4h11.5M646.1 805.2h11.5M654.2 776.4V802.8M648.5 776.4h11.5M648.5 802.8h11.5M656.6 780.7V799.2M650.9 780.7h11.5M650.9 799.2h11.5M659 776.1V798.8M653.3 776.1h11.5M653.3 798.8h11.5M661.5 771.8V795.1M655.7 771.8h11.5M655.7 795.1h11.5M663.9 773.6V793.4M658.1 773.6h11.5M658.1 793.4h11.5M666.3 772.6V800.5M660.5 772.6h11.5M660.5 800.5h11.5M668.7 776.3V796.2M662.9 776.3h11.5M662.9 796.2h11.5M671.1 777V796.8M665.4 777h11.5M665.4 796.8h11.5M673.5 771.3V796M667.8 771.3h11.5M667.8 796h11.5M675.9 785.5V820.1M670.2 785.5h11.5M670.2 820.1h11.5M678.3 756.6V787.4M672.6 756.6h11.5M672.6 787.4h11.5M680.7 771.4V788.9M675 771.4h11.5M675 788.9h11.5M683.1 779V796.4M677.4 779h11.5M677.4 796.4h11.5M685.6 776.4V801.7M679.8 776.4h11.5M679.8 801.7h11.5M688 780.4V801.1M682.2 780.4h11.5M682.2 801.1h11.5M690.4 776.4V803.4M684.6 776.4h11.5M684.6 803.4h11.5M692.8 773.9V792.4M687 773.9h11.5M687 792.4h11.5M695.2 775.3V794M689.5 775.3h11.5M689.5 794h11.5M697.6 771.8V798.8M691.9 771.8h11.5M691.9 798.8h11.5M700 774.8V795.1M694.3 774.8h11.5M694.3 795.1h11.5M702.4 771.9V788.8M696.7 771.9h11.5M696.7 788.8h11.5M704.8 777.4V795.8M699.1 777.4h11.5M699.1 795.8h11.5M707.2 772.6V798.4M701.5 772.6h11.5M701.5 798.4h11.5M709.7 774.3V793.3M703.9 774.3h11.5M703.9 793.3h11.5M712.1 773.3V796.2M706.3 773.3h11.5M706.3 796.2h11.5M714.5 768V794.6M708.7 768h11.5M708.7 794.6h11.5M716.9 772.6V796.2M711.1 772.6h11.5M711.1 796.2h11.5M719.3 764.6V790.1M713.5 764.6h11.5M713.5 790.1h11.5" stroke="#ffa246" stroke-width="1.2" fill="none" clip-path="url(#cb)"/>
<path d="M121.6 1180.2h0M124 963.4h0M128.8 829.6h0M131.3 793.2h0M133.7 779.3h0M136.1 771h0M138.5 770.7h0M140.9 772.2h0M143.3 775h0M145.7 778.1h0M148.1 780.7h0M150.5 783.5h0M152.9 786.1h0M155.4 789h0M157.8 791.6h0M160.2 795.2h0M162.6 798.2h0M165 801.8h0M167.4 803.9h0M169.8 807.4h0M172.2 810.1h0M174.6 813.6h0M177.1 816.5h0M179.5 820.4h0M181.9 823.2h0M184.3 825.7h0M186.7 830.5h0M189.1 832.9h0M191.5 835.9h0M193.9 839.7h0M196.3 842.8h0M198.7 845.9h0M201.2 849.9h0M203.6 852.7h0M206 856.4h0M208.4 859.7h0M210.8 863.3h0M213.2 866.9h0M215.6 870.6h0M218 874.5h0M220.4 879.2h0M222.8 881.8h0M225.2 886.1h0M227.7 890.1h0M230.1 894.6h0M232.5 898.7h0M234.9 902.3h0M237.3 905.3h0M239.7 908.3h0M242.1 909.2h0M244.5 910h0M246.9 913.3h0M249.4 913.6h0M251.8 915.2h0M254.2 916.7h0M256.6 917.3h0M259 919.5h0M261.4 919.8h0M263.8 920.1h0M266.2 921.5h0M268.6 922.2h0M271 922.6h0M273.4 923.2h0M275.9 922.5h0M278.3 923.3h0M280.7 922.2h0M283.1 922.4h0M285.5 921h0M287.9 920.5h0M290.3 920.6h0M292.7 918.6h0M295.1 917.9h0M297.6 916.5h0M300 914.4h0M302.4 914.2h0M304.8 912.8h0M307.2 910.4h0M309.6 909.6h0M312 907.7h0M314.4 906.7h0M316.8 905.7h0M319.2 903.8h0M321.7 901.6h0M324.1 900.1h0M326.5 898.8h0M328.9 897.1h0M331.3 895.4h0M333.7 893.9h0M336.1 891.2h0M338.5 890.2h0M340.9 888.9h0M343.3 886.9h0M345.8 884.6h0M348.2 882.8h0M350.6 881.3h0M353 879.6h0M355.4 877.5h0M357.8 876.2h0M360.2 874.3h0M362.6 870.7h0M365 870.4h0M367.4 867.1h0M369.9 865.1h0M372.3 862.6h0M374.7 860.7h0M377.1 854.3h0M379.5 855.7h0M381.9 856.9h0M384.3 854.3h0M386.7 851.8h0M389.1 851.2h0M391.5 848.4h0M394 847h0M396.4 847.3h0M398.8 842h0M401.2 840.9h0M403.6 838.8h0M406 837.5h0M408.4 830.8h0M410.8 826.4h0M413.2 826.5h0M415.6 830.3h0M418.1 822.5h0M420.5 824.1h0M422.9 822h0M425.3 815.3h0M427.7 817.7h0M430.1 818.9h0M432.5 815.2h0M434.9 814.9h0M437.3 811.3h0M439.7 810.5h0M442.2 644.9h0M444.6 811.4h0M447 805.5h0M449.4 805.6h0M451.8 804.3h0M454.2 801.3h0M456.6 802.6h0M459 800.1h0M461.4 798.9h0M463.8 796h0M466.3 797.2h0M468.7 798.1h0M471.1 792.2h0M473.5 786.3h0M475.9 791.2h0M478.3 791.1h0M480.7 794.5h0M483.1 795.2h0M485.5 791.5h0M487.9 788.4h0M490.4 785.8h0M492.8 782.7h0M495.2 783.4h0M497.6 788.4h0M500 781.6h0M502.4 782.1h0M504.8 784.7h0M507.2 783h0M509.6 774h0M512 778.9h0M514.5 783.2h0M516.9 785.1h0M519.3 783.9h0M521.7 784.2h0M524.1 788.2h0M526.5 784h0M528.9 787.9h0M531.3 786.3h0M533.7 787.3h0M536.1 783.1h0M538.5 788.7h0M541 790.2h0M543.4 788.9h0M545.8 788.4h0M548.2 790.1h0M550.6 785.7h0M553 791.2h0M555.4 793.2h0M557.8 793h0M560.2 789.4h0M562.6 786.6h0M565.1 798.9h0M567.5 792.4h0M569.9 788.3h0M572.3 787.2h0M574.7 789.2h0M577.1 798h0M579.5 793.4h0M581.9 793.4h0M584.3 785.4h0M586.8 791.5h0M589.2 789.7h0M591.6 787.2h0M594 789.8h0M596.4 789.2h0M598.8 793.1h0M601.2 792.3h0M603.6 791.6h0M606 793h0M608.4 793h0M610.9 791.8h0M613.3 791.3h0M615.7 793.9h0M618.1 786.9h0M620.5 789.5h0M622.9 789.9h0M625.3 799.9h0M627.7 788.1h0M630.1 788.1h0M632.5 786.9h0M634.9 787h0M637.4 788.3h0M639.8 786.6h0M642.2 791.4h0M644.6 791.9h0M647 790.6h0M649.4 788.7h0M651.8 795.3h0M654.2 789.6h0M656.6 790h0M659 787.4h0M661.5 783.4h0M663.9 783.5h0M666.3 786.6h0M668.7 786.2h0M671.1 786.9h0M673.5 783.6h0M675.9 802.8h0M678.3 772h0M680.7 780.2h0M683.1 787.7h0M685.6 789.1h0M688 790.8h0M690.4 789.9h0M692.8 783.1h0M695.2 784.6h0M697.6 785.3h0M700 785h0M702.4 780.4h0M704.8 786.6h0M707.2 785.5h0M709.7 783.8h0M712.1 784.8h0M714.5 781.3h0M716.9 784.4h0M719.3 777.4h0" stroke="#ff8b12" stroke-width="11.2" stroke-linecap="round" fill="none" clip-path="url(#cb)"/>
<path d="M128.8 879.8V1241.8M123.8 879.8h10M123.8 1241.8h10M131.3 948.1V975M126.3 948.1h10M126.3 975h10M138.5 921.8V929.7M133.5 921.8h10M133.5 929.7h10M140.9 919.3V926.2M135.9 919.3h10M135.9 926.2h10M143.3 923.1V926.2M138.3 923.1h10M138.3 926.2h10M145.7 922.7V922.8M140.7 922.7h10M140.7 922.8h10M148.1 918.1V929M143.1 918.1h10M143.1 929h10M150.5 925.2V926.7M145.5 925.2h10M145.5 926.7h10M152.9 923.4V927.2M147.9 923.4h10M147.9 927.2h10M155.4 923.9V924.2M150.4 923.9h10M150.4 924.2h10M157.8 921V925.4M152.8 921h10M152.8 925.4h10M160.2 922.2V926.9M155.2 922.2h10M155.2 926.9h10M162.6 927.1V933.3M157.6 927.1h10M157.6 933.3h10M165 928.9V932.6M160 928.9h10M160 932.6h10M167.4 931.9V934.8M162.4 931.9h10M162.4 934.8h10M169.8 935.3V944.4M164.8 935.3h10M164.8 944.4h10M172.2 934.6V937.8M167.2 934.6h10M167.2 937.8h10M174.6 936.6V940.5M169.6 936.6h10M169.6 940.5h10M177.1 941.1V946.8M172.1 941.1h10M172.1 946.8h10M179.5 942.9V946M174.5 942.9h10M174.5 946h10M181.9 942V950.4M176.9 942h10M176.9 950.4h10M184.3 940.7V941.7M179.3 940.7h10M179.3 941.7h10M186.7 944.9V948.6M181.7 944.9h10M181.7 948.6h10M189.1 949.3V954.2M184.1 949.3h10M184.1 954.2h10M191.5 947.1V950.1M186.5 947.1h10M186.5 950.1h10M193.9 948.4V958.1M188.9 948.4h10M188.9 958.1h10M196.3 947.9V952M191.3 947.9h10M191.3 952h10M198.7 953.1V957.9M193.7 953.1h10M193.7 957.9h10M201.2 956.6V962M196.2 956.6h10M196.2 962h10M203.6 952.4V962M198.6 952.4h10M198.6 962h10M206 957.2V959.7M201 957.2h10M201 959.7h10M208.4 951.3V960.9M203.4 951.3h10M203.4 960.9h10M210.8 951.3V962.3M205.8 951.3h10M205.8 962.3h10M213.2 952.1V955.1M208.2 952.1h10M208.2 955.1h10M215.6 951.8V953.8M210.6 951.8h10M210.6 953.8h10M218 956.2V965.3M213 956.2h10M213 965.3h10M220.4 955.5V959.1M215.4 955.5h10M215.4 959.1h10M222.8 959V961.6M217.8 959h10M217.8 961.6h10M225.2 956.4V957.4M220.2 956.4h10M220.2 957.4h10M227.7 958.5V965.6M222.7 958.5h10M222.7 965.6h10M230.1 957.2V968.1M225.1 957.2h10M225.1 968.1h10M232.5 955.2V965.4M227.5 955.2h10M227.5 965.4h10M234.9 959.4V966.2M229.9 959.4h10M229.9 966.2h10M237.3 961.8V966.8M232.3 961.8h10M232.3 966.8h10M239.7 955.8V967.1M234.7 955.8h10M234.7 967.1h10M242.1 959.2V966.9M237.1 959.2h10M237.1 966.9h10M244.5 959.6V970.6M239.5 959.6h10M239.5 970.6h10M246.9 965.4V973.3M241.9 965.4h10M241.9 973.3h10M249.4 962.6V981.9M244.4 962.6h10M244.4 981.9h10M251.8 960.2V968.3M246.8 960.2h10M246.8 968.3h10M254.2 962.7V964.2M249.2 962.7h10M249.2 964.2h10M256.6 965.6V968.5M251.6 965.6h10M251.6 968.5h10M259 965.1V965.8M254 965.1h10M254 965.8h10M261.4 957.7V968.5M256.4 957.7h10M256.4 968.5h10M263.8 957.3V968.7M258.8 957.3h10M258.8 968.7h10M266.2 961.4V968.3M261.2 961.4h10M261.2 968.3h10M268.6 964.6V966.4M263.6 964.6h10M263.6 966.4h10M271 967.2V968.7M266 967.2h10M266 968.7h10M273.4 964.1V969.2M268.4 964.1h10M268.4 969.2h10M275.9 965V969.5M270.9 965h10M270.9 969.5h10M278.3 970.2V972.5M273.3 970.2h10M273.3 972.5h10M280.7 959.5V976.8M275.7 959.5h10M275.7 976.8h10M283.1 965.7V973.2M278.1 965.7h10M278.1 973.2h10M285.5 963.1V972.2M280.5 963.1h10M280.5 972.2h10M287.9 967V967.7M282.9 967h10M282.9 967.7h10M290.3 963.9V967.5M285.3 963.9h10M285.3 967.5h10M292.7 967.7V971.2M287.7 967.7h10M287.7 971.2h10M295.1 963.5V969.7M290.1 963.5h10M290.1 969.7h10M297.6 964.2V971.2M292.6 964.2h10M292.6 971.2h10M300 961.3V966M295 961.3h10M295 966h10M302.4 957.3V967.3M297.4 957.3h10M297.4 967.3h10M304.8 960.3V964.8M299.8 960.3h10M299.8 964.8h10M307.2 955.1V958.6M302.2 955.1h10M302.2 958.6h10M309.6 950.3V959.2M304.6 950.3h10M304.6 959.2h10M312 949.5V959.2M307 949.5h10M307 959.2h10M314.4 943.3V953.4M309.4 943.3h10M309.4 953.4h10M316.8 948V950M311.8 948h10M311.8 950h10M319.2 946.8V949M314.2 946.8h10M314.2 949h10M321.7 946.4V951.8M316.7 946.4h10M316.7 951.8h10M324.1 943.1V954.3M319.1 943.1h10M319.1 954.3h10M326.5 941.8V949M321.5 941.8h10M321.5 949h10M328.9 940.1V947.3M323.9 940.1h10M323.9 947.3h10M331.3 934.9V938.7M326.3 934.9h10M326.3 938.7h10M333.7 929.9V941.3M328.7 929.9h10M328.7 941.3h10M336.1 937.4V939.6M331.1 937.4h10M331.1 939.6h10M338.5 930.6V937.1M333.5 930.6h10M333.5 937.1h10M340.9 930.6V938.4M335.9 930.6h10M335.9 938.4h10M343.3 927.4V936.7M338.3 927.4h10M338.3 936.7h10M345.8 924.8V934.2M340.8 924.8h10M340.8 934.2h10M348.2 926.6V931.1M343.2 926.6h10M343.2 931.1h10M350.6 920V923.2M345.6 920h10M345.6 923.2h10M353 917.2V928.5M348 917.2h10M348 928.5h10M355.4 920.9V927.3M350.4 920.9h10M350.4 927.3h10M357.8 916.8V920M352.8 916.8h10M352.8 920h10M360.2 919.5V921.1M355.2 919.5h10M355.2 921.1h10M362.6 912.9V922.2M357.6 912.9h10M357.6 922.2h10M365 913.3V923.1M360 913.3h10M360 923.1h10M367.4 902.9V909.4M362.4 902.9h10M362.4 909.4h10M369.9 879.3V925.5M364.9 879.3h10M364.9 925.5h10M372.3 895.2V902.9M367.3 895.2h10M367.3 902.9h10M374.7 888.6V900M369.7 888.6h10M369.7 900h10M377.1 899.1V949.1M372.1 899.1h10M372.1 949.1h10M379.5 881.7V890.8M374.5 881.7h10M374.5 890.8h10M381.9 880.7V890.8M376.9 880.7h10M376.9 890.8h10M384.3 881.7V890.4M379.3 881.7h10M379.3 890.4h10M386.7 880.2V885.8M381.7 880.2h10M381.7 885.8h10M389.1 877V879M384.1 877h10M384.1 879h10M391.5 877.7V885.7M386.5 877.7h10M386.5 885.7h10M394 880.3V889.9M389 880.3h10M389 889.9h10M396.4 868.1V879.2M391.4 868.1h10M391.4 879.2h10M398.8 874.8V876.5M393.8 874.8h10M393.8 876.5h10M401.2 875.7V877M396.2 875.7h10M396.2 877h10M403.6 866.6V874M398.6 866.6h10M398.6 874h10M406 867.9V877.4M401 867.9h10M401 877.4h10M408.4 871.9V872.8M403.4 871.9h10M403.4 872.8h10M410.8 861.3V868.4M405.8 861.3h10M405.8 868.4h10M413.2 848.5V851.6M408.2 848.5h10M408.2 851.6h10M415.6 859.5V871.1M410.6 859.5h10M410.6 871.1h10M418.1 855V859.2M413.1 855h10M413.1 859.2h10M420.5 851.8V852.8M415.5 851.8h10M415.5 852.8h10M422.9 846V855M417.9 846h10M417.9 855h10M425.3 854V857.5M420.3 854h10M420.3 857.5h10M427.7 843.9V848.7M422.7 843.9h10M422.7 848.7h10M430.1 839.1V840.6M425.1 839.1h10M425.1 840.6h10M432.5 833.7V837.5M427.5 833.7h10M427.5 837.5h10M434.9 844.7V846.2M429.9 844.7h10M429.9 846.2h10M437.3 847.1V850.1M432.3 847.1h10M432.3 850.1h10M439.7 837.6V844.3M434.7 837.6h10M434.7 844.3h10M442.2 836.7V840.1M437.2 836.7h10M437.2 840.1h10M444.6 831.5V839.2M439.6 831.5h10M439.6 839.2h10M447 830.7V841.1M442 830.7h10M442 841.1h10M449.4 825.1V831.7M444.4 825.1h10M444.4 831.7h10M451.8 828.5V828.8M446.8 828.5h10M446.8 828.8h10M454.2 818.6V829.7M449.2 818.6h10M449.2 829.7h10M456.6 830.9V833.2M451.6 830.9h10M451.6 833.2h10M459 820.3V824.3M454 820.3h10M454 824.3h10M461.4 821.3V827.4M456.4 821.3h10M456.4 827.4h10M463.8 826.2V833.4M458.8 826.2h10M458.8 833.4h10M466.3 820.5V824.5M461.3 820.5h10M461.3 824.5h10M468.7 816.2V821.3M463.7 816.2h10M463.7 821.3h10M471.1 811.7V818.9M466.1 811.7h10M466.1 818.9h10M473.5 808.6V813.9M468.5 808.6h10M468.5 813.9h10M475.9 820V823.3M470.9 820h10M470.9 823.3h10M478.3 812.3V817M473.3 812.3h10M473.3 817h10M480.7 802.7V816.4M475.7 802.7h10M475.7 816.4h10M483.1 800.2V817.6M478.1 800.2h10M478.1 817.6h10M485.5 793.2V814.3M480.5 793.2h10M480.5 814.3h10M487.9 799.6V824.8M482.9 799.6h10M482.9 824.8h10M490.4 799.6V825.5M485.4 799.6h10M485.4 825.5h10M492.8 790.9V814.4M487.8 790.9h10M487.8 814.4h10M495.2 792.2V806.5M490.2 792.2h10M490.2 806.5h10M497.6 779.6V804.3M492.6 779.6h10M492.6 804.3h10M500 787.4V808.7M495 787.4h10M495 808.7h10M502.4 798.3V809.4M497.4 798.3h10M497.4 809.4h10M504.8 780.4V806.5M499.8 780.4h10M499.8 806.5h10M507.2 793.3V805.8M502.2 793.3h10M502.2 805.8h10M509.6 791.6V812.4M504.6 791.6h10M504.6 812.4h10M512 771.4V792.5M507 771.4h10M507 792.5h10M514.5 781.2V806.4M509.5 781.2h10M509.5 806.4h10M516.9 778.5V799.1M511.9 778.5h10M511.9 799.1h10M519.3 774.3V800.9M514.3 774.3h10M514.3 800.9h10M521.7 776.4V785.2M516.7 776.4h10M516.7 785.2h10M524.1 780.2V788.6M519.1 780.2h10M519.1 788.6h10M526.5 776.3V787.7M521.5 776.3h10M521.5 787.7h10M528.9 783.5V802.3M523.9 783.5h10M523.9 802.3h10M531.3 783.6V799.5M526.3 783.6h10M526.3 799.5h10M533.7 772.3V781.6M528.7 772.3h10M528.7 781.6h10M536.1 770.4V782M531.1 770.4h10M531.1 782h10M538.5 767.6V786.4M533.5 767.6h10M533.5 786.4h10M541 767.8V783.3M536 767.8h10M536 783.3h10M543.4 763.8V786.2M538.4 763.8h10M538.4 786.2h10M545.8 769.5V786.2M540.8 769.5h10M540.8 786.2h10M548.2 754V778.6M543.2 754h10M543.2 778.6h10M550.6 758.4V780.7M545.6 758.4h10M545.6 780.7h10M553 760.9V778.1M548 760.9h10M548 778.1h10M555.4 759.7V774.3M550.4 759.7h10M550.4 774.3h10M557.8 756.6V768.5M552.8 756.6h10M552.8 768.5h10M560.2 758.7V772M555.2 758.7h10M555.2 772h10M562.6 747.4V782M557.6 747.4h10M557.6 782h10M565.1 764.2V778.8M560.1 764.2h10M560.1 778.8h10M567.5 755V766.2M562.5 755h10M562.5 766.2h10M569.9 743.9V760.7M564.9 743.9h10M564.9 760.7h10M572.3 760.4V770.3M567.3 760.4h10M567.3 770.3h10M574.7 749.1V773.6M569.7 749.1h10M569.7 773.6h10M577.1 741.8V760.1M572.1 741.8h10M572.1 760.1h10M579.5 746V755.6M574.5 746h10M574.5 755.6h10M581.9 747.4V761.4M576.9 747.4h10M576.9 761.4h10M584.3 756.5V769.1M579.3 756.5h10M579.3 769.1h10M586.8 750.8V761.5M581.8 750.8h10M581.8 761.5h10M589.2 754.9V771.8M584.2 754.9h10M584.2 771.8h10M591.6 752.5V763.7M586.6 752.5h10M586.6 763.7h10M594 743.7V754.3M589 743.7h10M589 754.3h10M596.4 732.1V770.7M591.4 732.1h10M591.4 770.7h10M598.8 740.5V756.5M593.8 740.5h10M593.8 756.5h10M601.2 726.8V747.5M596.2 726.8h10M596.2 747.5h10M603.6 737.3V754.1M598.6 737.3h10M598.6 754.1h10M606 737.1V754.5M601 737.1h10M601 754.5h10M608.4 746.1V759.8M603.4 746.1h10M603.4 759.8h10M610.9 737V767.8M605.9 737h10M605.9 767.8h10M613.3 745.5V762.5M608.3 745.5h10M608.3 762.5h10M615.7 740V754.3M610.7 740h10M610.7 754.3h10M618.1 733.5V757.1M613.1 733.5h10M613.1 757.1h10M620.5 736.5V748.9M615.5 736.5h10M615.5 748.9h10M622.9 736.8V748.7M617.9 736.8h10M617.9 748.7h10M625.3 737.7V752M620.3 737.7h10M620.3 752h10M627.7 733.2V756.1M622.7 733.2h10M622.7 756.1h10M630.1 730.7V754.7M625.1 730.7h10M625.1 754.7h10M632.5 724.1V742.7M627.5 724.1h10M627.5 742.7h10M634.9 730.1V744.7M629.9 730.1h10M629.9 744.7h10M637.4 723.4V743.6M632.4 723.4h10M632.4 743.6h10M639.8 720.3V743.9M634.8 720.3h10M634.8 743.9h10M642.2 714.5V760.7M637.2 714.5h10M637.2 760.7h10M644.6 721.9V742.4M639.6 721.9h10M639.6 742.4h10M647 732.4V753.7M642 732.4h10M642 753.7h10M649.4 721.5V736.7M644.4 721.5h10M644.4 736.7h10M651.8 728.1V738.6M646.8 728.1h10M646.8 738.6h10M654.2 729.5V748.9M649.2 729.5h10M649.2 748.9h10M656.6 735.8V747.6M651.6 735.8h10M651.6 747.6h10M659 723.1V737.9M654 723.1h10M654 737.9h10M661.5 724.1V762.6M656.5 724.1h10M656.5 762.6h10M663.9 723.5V749.7M658.9 723.5h10M658.9 749.7h10M666.3 719.4V729.9M661.3 719.4h10M661.3 729.9h10M668.7 723.6V732.8M663.7 723.6h10M663.7 732.8h10M671.1 732.3V770.8M666.1 732.3h10M666.1 770.8h10M673.5 705.6V731.4M668.5 705.6h10M668.5 731.4h10M675.9 727.7V736.3M670.9 727.7h10M670.9 736.3h10M678.3 716.5V736.6M673.3 716.5h10M673.3 736.6h10M680.7 722.5V730.7M675.7 722.5h10M675.7 730.7h10M683.1 719.4V737.8M678.1 719.4h10M678.1 737.8h10M685.6 716V726M680.6 716h10M680.6 726h10M688 718.8V739.2M683 718.8h10M683 739.2h10M690.4 696.5V738.9M685.4 696.5h10M685.4 738.9h10M692.8 718.7V739M687.8 718.7h10M687.8 739h10M695.2 710.4V723.1M690.2 710.4h10M690.2 723.1h10M697.6 724.8V734M692.6 724.8h10M692.6 734h10M700 716.8V728M695 716.8h10M695 728h10M702.4 725.5V738.5M697.4 725.5h10M697.4 738.5h10M704.8 709.6V748.1M699.8 709.6h10M699.8 748.1h10M707.2 714.2V725.7M702.2 714.2h10M702.2 725.7h10M709.7 708.5V726.7M704.7 708.5h10M704.7 726.7h10M712.1 721.4V737.6M707.1 721.4h10M707.1 737.6h10M714.5 708.1V731.7M709.5 708.1h10M709.5 731.7h10M716.9 718V735.3M711.9 718h10M711.9 735.3h10M719.3 711.8V729.9M714.3 711.8h10M714.3 729.9h10" stroke="#9a9a9a" stroke-width="1" fill="none" clip-path="url(#cb)"/>
<path d="M124 1010.7h9.6M126.5 963.5h9.6M128.9 939.5h9.6M131.3 927.7h9.6M133.7 925.7h9.6M136.1 922.7h9.6M138.5 924.7h9.6M140.9 922.7h9.6M143.3 923.6h9.6M145.7 926h9.6M148.1 925.3h9.6M150.6 924h9.6M153 923.2h9.6M155.4 924.6h9.6M157.8 930.2h9.6M160.2 930.7h9.6M162.6 933.3h9.6M165 939.9h9.6M167.4 936.2h9.6M169.8 938.5h9.6M172.2 944h9.6M174.7 944.4h9.6M177.1 946.2h9.6M179.5 941.2h9.6M181.9 946.7h9.6M184.3 951.7h9.6M186.7 948.6h9.6M189.1 953.3h9.6M191.5 949.9h9.6M193.9 955.5h9.6M196.3 959.3h9.6M198.8 957.2h9.6M201.2 958.4h9.6M203.6 956.1h9.6M206 956.8h9.6M208.4 953.6h9.6M210.8 952.8h9.6M213.2 960.8h9.6M215.6 957.3h9.6M218 960.3h9.6M220.4 956.9h9.6M222.9 962.1h9.6M225.3 962.7h9.6M227.7 960.3h9.6M230.1 962.8h9.6M232.5 964.3h9.6M234.9 961.4h9.6M237.3 963h9.6M239.7 965.1h9.6M242.1 969.4h9.6M244.6 972.2h9.6M247 964.3h9.6M249.4 963.4h9.6M251.8 967h9.6M254.2 965.4h9.6M256.6 963.1h9.6M259 963h9.6M261.4 964.9h9.6M263.8 965.5h9.6M266.2 967.9h9.6M268.6 966.6h9.6M271.1 967.3h9.6M273.5 971.4h9.6M275.9 968.1h9.6M278.3 969.4h9.6M280.7 967.7h9.6M283.1 967.4h9.6M285.5 965.7h9.6M287.9 969.5h9.6M290.3 966.6h9.6M292.8 967.7h9.6M295.2 963.6h9.6M297.6 962.3h9.6M300 962.6h9.6M302.4 956.9h9.6M304.8 954.8h9.6M307.2 954.4h9.6M309.6 948.3h9.6M312 949h9.6M314.4 947.9h9.6M316.9 949.1h9.6M319.3 948.7h9.6M321.7 945.4h9.6M324.1 943.7h9.6M326.5 936.8h9.6M328.9 935.6h9.6M331.3 938.5h9.6M333.7 933.9h9.6M336.1 934.5h9.6M338.5 932h9.6M340.9 929.5h9.6M343.4 928.9h9.6M345.8 921.6h9.6M348.2 922.8h9.6M350.6 924.1h9.6M353 918.4h9.6M355.4 920.3h9.6M357.8 917.6h9.6M360.2 918.2h9.6M362.6 906.1h9.6M365.1 902.4h9.6M367.5 899.1h9.6M369.9 894.3h9.6M372.3 924.1h9.6M374.7 886.3h9.6M377.1 885.8h9.6M379.5 886h9.6M381.9 883h9.6M384.3 878h9.6M386.7 881.7h9.6M389.2 885.1h9.6M391.6 873.6h9.6M394 875.7h9.6M396.4 876.3h9.6M398.8 870.3h9.6M401.2 872.7h9.6M403.6 872.3h9.6M406 864.9h9.6M408.4 850h9.6M410.8 865.3h9.6M413.2 857.1h9.6M415.7 852.3h9.6M418.1 850.5h9.6M420.5 855.8h9.6M422.9 846.3h9.6M425.3 839.8h9.6M427.7 835.6h9.6M430.1 845.5h9.6M432.5 848.6h9.6M434.9 841h9.6M437.4 838.4h9.6M439.8 835.4h9.6M442.2 835.9h9.6M444.6 828.4h9.6M447 828.6h9.6M449.4 824.1h9.6M451.8 832h9.6M454.2 822.3h9.6M456.6 824.3h9.6M459 829.8h9.6M461.5 822.5h9.6M463.9 818.7h9.6M466.3 815.3h9.6M468.7 811.2h9.6M471.1 821.6h9.6M473.5 814.6h9.6M475.9 809.5h9.6M478.3 808.9h9.6M480.7 803.7h9.6M483.1 812.2h9.6M485.6 812.6h9.6M488 802.6h9.6M490.4 799.4h9.6M492.8 792h9.6M495.2 798.1h9.6M497.6 803.8h9.6M500 793.4h9.6M502.4 799.5h9.6M504.8 802h9.6M507.2 781.9h9.6M509.7 793.8h9.6M512.1 788.8h9.6M514.5 787.6h9.6M516.9 780.8h9.6M519.3 784.4h9.6M521.7 782h9.6M524.1 792.9h9.6M526.5 791.5h9.6M528.9 776.9h9.6M531.3 776.2h9.6M533.8 777h9.6M536.2 775.6h9.6M538.6 775h9.6M541 777.8h9.6M543.4 766.3h9.6M545.8 769.6h9.6M548.2 769.5h9.6M550.6 767h9.6M553 762.6h9.6M555.4 765.4h9.6M557.9 764.7h9.6M560.3 771.5h9.6M562.7 760.6h9.6M565.1 752.3h9.6M567.5 765.4h9.6M569.9 761.3h9.6M572.3 750.9h9.6M574.7 750.8h9.6M577.1 754.4h9.6M579.5 762.8h9.6M582 756.1h9.6M584.4 763.3h9.6M586.8 758.1h9.6M589.2 749h9.6M591.6 751.4h9.6M594 748.5h9.6M596.4 737.1h9.6M598.8 745.7h9.6M601.2 745.8h9.6M603.6 753h9.6M606.1 752.4h9.6M608.5 754h9.6M610.9 747.2h9.6M613.3 745.3h9.6M615.7 742.7h9.6M618.1 742.8h9.6M620.5 744.8h9.6M622.9 744.6h9.6M625.3 742.7h9.6M627.7 733.4h9.6M630.1 737.4h9.6M632.6 733.5h9.6M635 732.1h9.6M637.4 737.6h9.6M639.8 732.1h9.6M642.2 743h9.6M644.6 729.1h9.6M647 733.4h9.6M649.4 739.2h9.6M651.8 741.7h9.6M654.2 730.5h9.6M656.7 743.4h9.6M659.1 736.6h9.6M661.5 724.6h9.6M663.9 728.2h9.6M666.3 751.6h9.6M668.7 718.5h9.6M671.1 732h9.6M673.5 726.6h9.6M675.9 726.6h9.6M678.4 728.6h9.6M680.8 721h9.6M683.2 729h9.6M685.6 717.7h9.6M688 728.8h9.6M690.4 716.8h9.6M692.8 729.4h9.6M695.2 722.4h9.6M697.6 732h9.6M700 728.9h9.6M702.5 719.9h9.6M704.9 717.6h9.6M707.3 729.5h9.6M709.7 719.9h9.6M712.1 726.7h9.6M714.5 720.9h9.6" stroke="#8c8c8c" stroke-width="9.6" fill="none" clip-path="url(#cb)"/>
<path d="M125.8 945.3V1193.7" stroke="#14ac5b" stroke-width="1.2" fill="none"/>
<path d="M128.8 879.8V1193.7" stroke="#808080" stroke-width="1.6" fill="none"/>
<path d="M442.2 616V766.2" stroke="#ff8b12" stroke-width="1.7" fill="none"/>
<circle cx="442.2" cy="644.9" r="5.6" fill="#ff8b12"/>
<text x="79.6" y="1202" font-size="26.3" text-anchor="end">97.0</text>
<text x="79.6" y="1105.7" font-size="26.3" text-anchor="end">97.5</text>
<text x="79.6" y="1009.4" font-size="26.3" text-anchor="end">98.0</text>
<text x="79.6" y="913.1" font-size="26.3" text-anchor="end">98.5</text>
<text x="79.6" y="816.9" font-size="26.3" text-anchor="end">99.0</text>
<text x="79.6" y="720.6" font-size="26.3" text-anchor="end">99.5</text>
<text x="79.6" y="624.3" font-size="26.3" text-anchor="end">100.0</text>
<text x="118.1" y="1234.6" font-size="26.3" text-anchor="middle">0</text>
<text x="238.6" y="1234.6" font-size="26.3" text-anchor="middle">50</text>
<text x="359.1" y="1234.6" font-size="26.3" text-anchor="middle">100</text>
<text x="479.6" y="1234.6" font-size="26.3" text-anchor="middle">150</text>
<text x="600.1" y="1234.6" font-size="26.3" text-anchor="middle">200</text>
<text x="720.6" y="1234.6" font-size="26.3" text-anchor="middle">250</text>
<text x="127" y="671.5" font-size="26.5">b)</text>
<text transform="translate(22.3 1048.8) rotate(-90)" font-size="26.75">Coulombic efficiency [%]</text>
<text x="406.5" y="1271.3" font-size="26.5" text-anchor="middle">Cycle [#]</text>
<rect x="210.3" y="1028" width="492.4" height="151.2" fill="#fff" stroke="#000" stroke-width="2.2"/>
<path d="M213.3 1047.8H266.4" stroke="#14ac5b" stroke-width="1.1" stroke-opacity="0.8" fill="none"/>
<circle cx="240" cy="1047.8" r="5.4" fill="#14ac5b"/>
<text x="274.4" y="1056.2" font-size="23.6">+ 5 wt% Li<tspan font-size="13.8" dy="8.2">2</tspan><tspan dy="-8.2">C</tspan><tspan font-size="13.8" dy="8.2">2</tspan><tspan dy="-8.2">O</tspan><tspan font-size="13.8" dy="8.2">4</tspan><tspan dy="-8.2">, not opened</tspan></text>
<path d="M213.3 1084.1H266.4" stroke="#000000" stroke-width="1.1" stroke-opacity="0.8" fill="none"/>
<rect x="235" y="1079.1" width="10" height="10" fill="#000000"/>
<text x="274.4" y="1092.5" font-size="23.6">+ 0 wt% Li<tspan font-size="13.8" dy="8.2">2</tspan><tspan dy="-8.2">C</tspan><tspan font-size="13.8" dy="8.2">2</tspan><tspan dy="-8.2">O</tspan><tspan font-size="13.8" dy="8.2">4</tspan><tspan dy="-8.2">, not opened</tspan></text>
<path d="M213.3 1120.4H266.4" stroke="#ff8b12" stroke-width="1.1" stroke-opacity="0.8" fill="none"/>
<circle cx="240" cy="1120.4" r="5.4" fill="#ff8b12"/>
<text x="274.4" y="1128.8" font-size="23.6">+ 5 wt% Li<tspan font-size="13.8" dy="8.2">2</tspan><tspan dy="-8.2">C</tspan><tspan font-size="13.8" dy="8.2">2</tspan><tspan dy="-8.2">O</tspan><tspan font-size="13.8" dy="8.2">4</tspan><tspan dy="-8.2">, opened after formation</tspan></text>
<path d="M213.3 1156.7H266.4" stroke="#8c8c8c" stroke-width="1.1" stroke-opacity="0.8" fill="none"/>
<rect x="235" y="1151.7" width="10" height="10" fill="#8c8c8c"/>
<text x="274.4" y="1165.1" font-size="23.6">+ 0 wt% Li<tspan font-size="13.8" dy="8.2">2</tspan><tspan dy="-8.2">C</tspan><tspan font-size="13.8" dy="8.2">2</tspan><tspan dy="-8.2">O</tspan><tspan font-size="13.8" dy="8.2">4</tspan><tspan dy="-8.2">, opened after formation</tspan></text>
</g>
</svg></body></html>
